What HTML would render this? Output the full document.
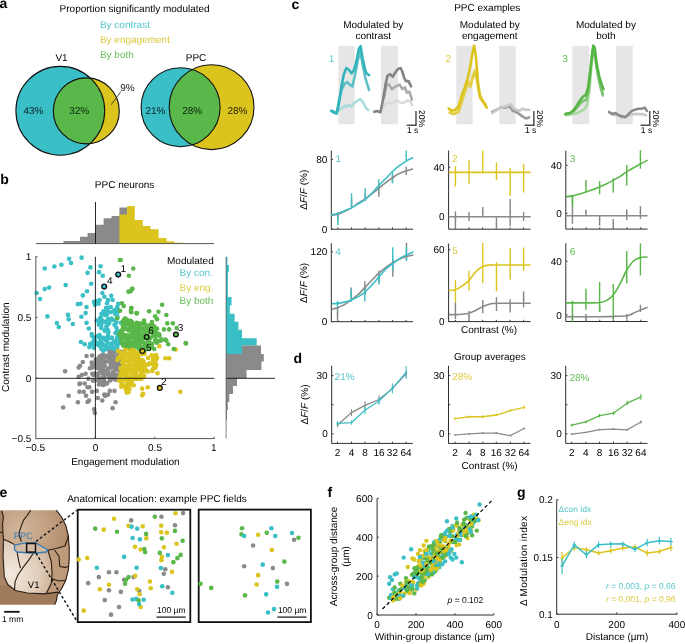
<!DOCTYPE html>
<html><head><meta charset="utf-8"><style>
html,body{margin:0;padding:0;background:#fff;}
svg{display:block;font-family:"Liberation Sans", sans-serif;font-size:10px;will-change:transform;text-rendering:geometricPrecision;filter:blur(0.35px);}
</style></head><body>
<svg width="685" height="644" viewBox="0 0 685 644">
<rect width="685" height="644" fill="#fff"/>
<text x="-0.6" y="7.9" font-weight="bold" font-size="14">a</text>
<text x="0.3" y="183.6" font-weight="bold" font-size="14">b</text>
<text x="291.5" y="8.5" font-weight="bold" font-size="14">c</text>
<text x="293.5" y="362.7" font-weight="bold" font-size="14">d</text>
<text x="-0.4" y="497.3" font-weight="bold" font-size="14">e</text>
<text x="327.5" y="496.5" font-weight="bold" font-size="14">f</text>
<text x="517" y="497.1" font-weight="bold" font-size="14">g</text>
<text x="59.6" y="11.9">Proportion significantly modulated</text>
<text x="99.9" y="27.7" fill="#55c5cc">By contrast</text>
<text x="99.9" y="42.7" fill="#dcc93f">By engagement</text>
<text x="99.9" y="57.5" fill="#64bb56">By both</text>
<text x="61.5" y="60.5" text-anchor="middle">V1</text>
<text x="196" y="61" text-anchor="middle">PPC</text>
<clipPath id="cv1"><circle cx="60.3" cy="110.8" r="44.4"/></clipPath>
<circle cx="60.3" cy="110.8" r="44.4" fill="#3BBFC7"/>
<circle cx="86.3" cy="110.9" r="33" fill="#DCC41F"/>
<circle cx="86.3" cy="110.9" r="33" fill="#5AB74A" clip-path="url(#cv1)"/>
<circle cx="60.3" cy="110.8" r="44.4" fill="none" stroke="#111" stroke-width="1.1"/>
<circle cx="86.3" cy="110.9" r="33" fill="none" stroke="#111" stroke-width="1.1"/>
<clipPath id="cv2"><circle cx="180.6" cy="107.2" r="39.5"/></clipPath>
<circle cx="180.6" cy="107.2" r="39.5" fill="#3BBFC7"/>
<circle cx="211.6" cy="107.2" r="42.4" fill="#DCC41F"/>
<circle cx="211.6" cy="107.2" r="42.4" fill="#5AB74A" clip-path="url(#cv2)"/>
<circle cx="180.6" cy="107.2" r="39.5" fill="none" stroke="#111" stroke-width="1.1"/>
<circle cx="211.6" cy="107.2" r="42.4" fill="none" stroke="#111" stroke-width="1.1"/>
<text x="33.4" y="113.6" text-anchor="middle" fill="#0a2226">43%</text>
<text x="79.2" y="113.6" text-anchor="middle" fill="#0a240d">32%</text>
<text x="127.5" y="91" text-anchor="middle" fill="#222">9%</text>
<line x1="120.9" y1="91.6" x2="111.2" y2="104.7" stroke="#222" stroke-width="0.8"/>
<text x="155.4" y="113.6" text-anchor="middle" fill="#0a2226">21%</text>
<text x="192.2" y="113.6" text-anchor="middle" fill="#0a240d">28%</text>
<text x="237.5" y="113.6" text-anchor="middle" fill="#221e04">28%</text>
<text x="124.6" y="187.5" text-anchor="middle">PPC neurons</text>
<polygon points="36.1,243.6 36.1,243 63.5,243 63.5,241 80,241 80,236.8 87.6,236.8 87.6,233 95.6,233 95.6,224.7 103.6,224.7 103.6,218.2 111.6,218.2 111.6,216 119.4,216 119.4,207.5 127.1,207.5 127.1,243.6" fill="#8A8A8A"/>
<polygon points="119.4,243.6 119.4,214.5 127.1,214.5 127.1,205.9 134.8,205.9 134.8,220 142.8,220 142.8,226 150.5,226 150.5,229.3 158.6,229.3 158.6,238 166.5,238 166.5,241.3 174.3,241.3 174.3,242.7 182.3,242.7 182.3,243.6" fill="#DCC41F"/>
<line x1="36" y1="243.6" x2="214" y2="243.6" stroke="#555" stroke-width="1"/>
<line x1="95.5" y1="202" x2="95.5" y2="243.6" stroke="#111" stroke-width="0.9"/>
<polygon points="226.1,256.8 227.4,256.8 227.4,264.9 228.9,264.9 228.9,272.3 227.9,272.3 227.9,297.1 231.5,297.1 231.5,305.4 229.8,305.4 229.8,313.8 234.6,313.8 234.6,321.8 238.4,321.8 238.4,329.8 242,329.8 242,338.2 256.7,338.2 256.7,345.6 242,345.6 242,354 226.1,354" fill="#3BBFC7"/>
<polygon points="242,345.6 261,345.6 261,354 263.8,354 263.8,361.5 261.4,361.5 261.4,369.9 246.6,369.9 246.6,378.3 237.1,378.3 237.1,386 233,386 233,394 229.3,394 229.3,402 227.8,402 227.8,410 227,410 227,420 226.1,420 226.1,354 242,354" fill="#8A8A8A"/>
<line x1="226.1" y1="256.8" x2="226.1" y2="438.5" stroke="#333" stroke-width="1" opacity="0.6"/>
<line x1="226.1" y1="378.3" x2="275" y2="378.3" stroke="#111" stroke-width="0.9"/>
<circle cx="97.32" cy="366.16" r="2.3" fill="#8A8A8A"/>
<circle cx="101.77" cy="367.94" r="2.3" fill="#8A8A8A"/>
<circle cx="110.39" cy="351.95" r="2.3" fill="#8A8A8A"/>
<circle cx="117.49" cy="364.15" r="2.3" fill="#8A8A8A"/>
<circle cx="110.84" cy="354.47" r="2.3" fill="#8A8A8A"/>
<circle cx="110.69" cy="375.78" r="2.3" fill="#8A8A8A"/>
<circle cx="106.93" cy="372.02" r="2.3" fill="#8A8A8A"/>
<circle cx="111.93" cy="351.9" r="2.3" fill="#8A8A8A"/>
<circle cx="114.85" cy="367.56" r="2.3" fill="#8A8A8A"/>
<circle cx="118.47" cy="364.04" r="2.3" fill="#8A8A8A"/>
<circle cx="113.52" cy="376.1" r="2.3" fill="#8A8A8A"/>
<circle cx="113.37" cy="377.36" r="2.3" fill="#8A8A8A"/>
<circle cx="102.61" cy="373.79" r="2.3" fill="#8A8A8A"/>
<circle cx="104.28" cy="377.79" r="2.3" fill="#8A8A8A"/>
<circle cx="118.92" cy="352.89" r="2.3" fill="#8A8A8A"/>
<circle cx="121.84" cy="362.95" r="2.3" fill="#8A8A8A"/>
<circle cx="110.42" cy="358.94" r="2.3" fill="#8A8A8A"/>
<circle cx="106.39" cy="361.46" r="2.3" fill="#8A8A8A"/>
<circle cx="101.13" cy="367.38" r="2.3" fill="#8A8A8A"/>
<circle cx="108.99" cy="376.85" r="2.3" fill="#8A8A8A"/>
<circle cx="112.28" cy="377.59" r="2.3" fill="#8A8A8A"/>
<circle cx="111.92" cy="354.84" r="2.3" fill="#8A8A8A"/>
<circle cx="119.79" cy="366.9" r="2.3" fill="#8A8A8A"/>
<circle cx="113.36" cy="356.27" r="2.3" fill="#8A8A8A"/>
<circle cx="117.33" cy="367.03" r="2.3" fill="#8A8A8A"/>
<circle cx="92.28" cy="373.78" r="2.3" fill="#8A8A8A"/>
<circle cx="103.13" cy="354.48" r="2.3" fill="#8A8A8A"/>
<circle cx="99.2" cy="372.83" r="2.3" fill="#8A8A8A"/>
<circle cx="118.71" cy="351.31" r="2.3" fill="#8A8A8A"/>
<circle cx="110.01" cy="351.33" r="2.3" fill="#8A8A8A"/>
<circle cx="113.51" cy="359.83" r="2.3" fill="#8A8A8A"/>
<circle cx="109.51" cy="350.93" r="2.3" fill="#8A8A8A"/>
<circle cx="95.95" cy="362.12" r="2.3" fill="#8A8A8A"/>
<circle cx="109.87" cy="354.64" r="2.3" fill="#8A8A8A"/>
<circle cx="99.88" cy="378.47" r="2.3" fill="#8A8A8A"/>
<circle cx="119.52" cy="361.22" r="2.3" fill="#8A8A8A"/>
<circle cx="104.82" cy="365.45" r="2.3" fill="#8A8A8A"/>
<circle cx="111" cy="367.69" r="2.3" fill="#8A8A8A"/>
<circle cx="108.15" cy="368.42" r="2.3" fill="#8A8A8A"/>
<circle cx="121" cy="365.06" r="2.3" fill="#8A8A8A"/>
<circle cx="103.83" cy="371.39" r="2.3" fill="#8A8A8A"/>
<circle cx="97.31" cy="358.94" r="2.3" fill="#8A8A8A"/>
<circle cx="122.25" cy="365.48" r="2.3" fill="#8A8A8A"/>
<circle cx="103.29" cy="367.22" r="2.3" fill="#8A8A8A"/>
<circle cx="89.98" cy="368.29" r="2.3" fill="#8A8A8A"/>
<circle cx="110.6" cy="351.78" r="2.3" fill="#8A8A8A"/>
<circle cx="110.44" cy="363.85" r="2.3" fill="#8A8A8A"/>
<circle cx="112.19" cy="360.47" r="2.3" fill="#8A8A8A"/>
<circle cx="113.12" cy="371.92" r="2.3" fill="#8A8A8A"/>
<circle cx="97.76" cy="363.55" r="2.3" fill="#8A8A8A"/>
<circle cx="109.27" cy="359.5" r="2.3" fill="#8A8A8A"/>
<circle cx="101.57" cy="359.29" r="2.3" fill="#8A8A8A"/>
<circle cx="101.74" cy="367.69" r="2.3" fill="#8A8A8A"/>
<circle cx="99.42" cy="361.2" r="2.3" fill="#8A8A8A"/>
<circle cx="115.33" cy="350.8" r="2.3" fill="#8A8A8A"/>
<circle cx="108.48" cy="371.83" r="2.3" fill="#8A8A8A"/>
<circle cx="99.75" cy="356.61" r="2.3" fill="#8A8A8A"/>
<circle cx="116.39" cy="357.09" r="2.3" fill="#8A8A8A"/>
<circle cx="95.62" cy="362.93" r="2.3" fill="#8A8A8A"/>
<circle cx="112.82" cy="353.02" r="2.3" fill="#8A8A8A"/>
<circle cx="100.15" cy="359.91" r="2.3" fill="#8A8A8A"/>
<circle cx="117.39" cy="363.02" r="2.3" fill="#8A8A8A"/>
<circle cx="118.13" cy="355.03" r="2.3" fill="#8A8A8A"/>
<circle cx="100.65" cy="369.31" r="2.3" fill="#8A8A8A"/>
<circle cx="119.12" cy="363.4" r="2.3" fill="#8A8A8A"/>
<circle cx="107.15" cy="355.67" r="2.3" fill="#8A8A8A"/>
<circle cx="116.49" cy="374.9" r="2.3" fill="#8A8A8A"/>
<circle cx="116.5" cy="369.07" r="2.3" fill="#8A8A8A"/>
<circle cx="116.47" cy="360.25" r="2.3" fill="#8A8A8A"/>
<circle cx="116.05" cy="358.05" r="2.3" fill="#8A8A8A"/>
<circle cx="100.97" cy="362.38" r="2.3" fill="#8A8A8A"/>
<circle cx="103.45" cy="362.16" r="2.3" fill="#8A8A8A"/>
<circle cx="120.32" cy="354.63" r="2.3" fill="#8A8A8A"/>
<circle cx="103.94" cy="378.22" r="2.3" fill="#8A8A8A"/>
<circle cx="120.55" cy="356.6" r="2.3" fill="#8A8A8A"/>
<circle cx="114.42" cy="374.85" r="2.3" fill="#8A8A8A"/>
<circle cx="111.64" cy="365.41" r="2.3" fill="#8A8A8A"/>
<circle cx="99.04" cy="360.13" r="2.3" fill="#8A8A8A"/>
<circle cx="109.14" cy="358.52" r="2.3" fill="#8A8A8A"/>
<circle cx="116.6" cy="351.34" r="2.3" fill="#8A8A8A"/>
<circle cx="119.75" cy="370.6" r="2.3" fill="#8A8A8A"/>
<circle cx="119.62" cy="367.14" r="2.3" fill="#8A8A8A"/>
<circle cx="111.64" cy="365.59" r="2.3" fill="#8A8A8A"/>
<circle cx="103.24" cy="377.89" r="2.3" fill="#8A8A8A"/>
<circle cx="109.93" cy="360.14" r="2.3" fill="#8A8A8A"/>
<circle cx="97.81" cy="375.59" r="2.3" fill="#8A8A8A"/>
<circle cx="105.38" cy="373.24" r="2.3" fill="#8A8A8A"/>
<circle cx="101.16" cy="355.86" r="2.3" fill="#8A8A8A"/>
<circle cx="107.32" cy="374.26" r="2.3" fill="#8A8A8A"/>
<circle cx="95.07" cy="373.51" r="2.3" fill="#8A8A8A"/>
<circle cx="120.36" cy="373.94" r="2.3" fill="#8A8A8A"/>
<circle cx="117.05" cy="350.22" r="2.3" fill="#8A8A8A"/>
<circle cx="110.48" cy="375.62" r="2.3" fill="#8A8A8A"/>
<circle cx="98.35" cy="365.66" r="2.3" fill="#8A8A8A"/>
<circle cx="103.55" cy="364.05" r="2.3" fill="#8A8A8A"/>
<circle cx="92.2" cy="364.91" r="2.3" fill="#8A8A8A"/>
<circle cx="99.95" cy="359.34" r="2.3" fill="#8A8A8A"/>
<circle cx="101.14" cy="369.21" r="2.3" fill="#8A8A8A"/>
<circle cx="109.07" cy="360.72" r="2.3" fill="#8A8A8A"/>
<circle cx="95.74" cy="359.76" r="2.3" fill="#8A8A8A"/>
<circle cx="93.47" cy="366.5" r="2.3" fill="#8A8A8A"/>
<circle cx="113.43" cy="361.29" r="2.3" fill="#8A8A8A"/>
<circle cx="101.88" cy="367.95" r="2.3" fill="#8A8A8A"/>
<circle cx="115.67" cy="361.29" r="2.3" fill="#8A8A8A"/>
<circle cx="116.3" cy="368.5" r="2.3" fill="#8A8A8A"/>
<circle cx="103.84" cy="361.06" r="2.3" fill="#8A8A8A"/>
<circle cx="106.02" cy="370.88" r="2.3" fill="#8A8A8A"/>
<circle cx="103.47" cy="370.62" r="2.3" fill="#8A8A8A"/>
<circle cx="104.83" cy="357.28" r="2.3" fill="#8A8A8A"/>
<circle cx="107.36" cy="370.65" r="2.3" fill="#8A8A8A"/>
<circle cx="91.71" cy="362.62" r="2.3" fill="#8A8A8A"/>
<circle cx="103.65" cy="376.13" r="2.3" fill="#8A8A8A"/>
<circle cx="120.86" cy="361.11" r="2.3" fill="#8A8A8A"/>
<circle cx="119.56" cy="373.49" r="2.3" fill="#8A8A8A"/>
<circle cx="98.14" cy="363.79" r="2.3" fill="#8A8A8A"/>
<circle cx="93.45" cy="374.15" r="2.3" fill="#8A8A8A"/>
<circle cx="111.62" cy="376.35" r="2.3" fill="#8A8A8A"/>
<circle cx="116.01" cy="369.83" r="2.3" fill="#8A8A8A"/>
<circle cx="114.03" cy="366.75" r="2.3" fill="#8A8A8A"/>
<circle cx="92.78" cy="367.46" r="2.3" fill="#8A8A8A"/>
<circle cx="115.39" cy="351.32" r="2.3" fill="#8A8A8A"/>
<circle cx="118.97" cy="355.32" r="2.3" fill="#8A8A8A"/>
<circle cx="93.39" cy="375.07" r="2.3" fill="#8A8A8A"/>
<circle cx="112" cy="374.83" r="2.3" fill="#8A8A8A"/>
<circle cx="121.4" cy="367.2" r="2.3" fill="#8A8A8A"/>
<circle cx="116.22" cy="351.08" r="2.3" fill="#8A8A8A"/>
<circle cx="115.16" cy="365.19" r="2.3" fill="#8A8A8A"/>
<circle cx="113.4" cy="353.17" r="2.3" fill="#8A8A8A"/>
<circle cx="114.54" cy="377.76" r="2.3" fill="#8A8A8A"/>
<circle cx="108.31" cy="374.59" r="2.3" fill="#8A8A8A"/>
<circle cx="97.72" cy="368.29" r="2.3" fill="#8A8A8A"/>
<circle cx="114.69" cy="361.69" r="2.3" fill="#8A8A8A"/>
<circle cx="101.68" cy="361.78" r="2.3" fill="#8A8A8A"/>
<circle cx="101.1" cy="362.42" r="2.3" fill="#8A8A8A"/>
<circle cx="92.11" cy="364.86" r="2.3" fill="#8A8A8A"/>
<circle cx="122.09" cy="362.26" r="2.3" fill="#8A8A8A"/>
<circle cx="98" cy="380.5" r="2.3" fill="#8A8A8A"/>
<circle cx="101" cy="382.5" r="2.3" fill="#8A8A8A"/>
<circle cx="104" cy="381" r="2.3" fill="#8A8A8A"/>
<circle cx="107" cy="383" r="2.3" fill="#8A8A8A"/>
<circle cx="103" cy="385" r="2.3" fill="#8A8A8A"/>
<circle cx="99" cy="384.5" r="2.3" fill="#8A8A8A"/>
<circle cx="110" cy="380.5" r="2.3" fill="#8A8A8A"/>
<circle cx="78.68" cy="367.59" r="2.3" fill="#8A8A8A"/>
<circle cx="65.11" cy="371.27" r="2.3" fill="#8A8A8A"/>
<circle cx="78.68" cy="376.88" r="2.3" fill="#8A8A8A"/>
<circle cx="79.42" cy="383.96" r="2.3" fill="#8A8A8A"/>
<circle cx="79.42" cy="391.63" r="2.3" fill="#8A8A8A"/>
<circle cx="68.65" cy="395.76" r="2.3" fill="#8A8A8A"/>
<circle cx="86.06" cy="395.76" r="2.3" fill="#8A8A8A"/>
<circle cx="77.94" cy="402.25" r="2.3" fill="#8A8A8A"/>
<circle cx="87.53" cy="401.96" r="2.3" fill="#8A8A8A"/>
<circle cx="89.01" cy="400.48" r="2.3" fill="#8A8A8A"/>
<circle cx="63.19" cy="407.56" r="2.3" fill="#8A8A8A"/>
<circle cx="97.86" cy="397.97" r="2.3" fill="#8A8A8A"/>
<circle cx="102.28" cy="400.48" r="2.3" fill="#8A8A8A"/>
<circle cx="94.17" cy="409.33" r="2.3" fill="#8A8A8A"/>
<circle cx="94.91" cy="413.02" r="2.3" fill="#8A8A8A"/>
<circle cx="115.56" cy="402.25" r="2.3" fill="#8A8A8A"/>
<circle cx="112.61" cy="408.15" r="2.3" fill="#8A8A8A"/>
<circle cx="105.23" cy="396.06" r="2.3" fill="#8A8A8A"/>
<circle cx="86.52" cy="355.97" r="2.3" fill="#8A8A8A"/>
<circle cx="92.12" cy="355.5" r="2.3" fill="#8A8A8A"/>
<circle cx="82.8" cy="362.03" r="2.3" fill="#8A8A8A"/>
<circle cx="80" cy="365.75" r="2.3" fill="#8A8A8A"/>
<circle cx="85.59" cy="373.68" r="2.3" fill="#8A8A8A"/>
<circle cx="81.86" cy="375.07" r="2.3" fill="#8A8A8A"/>
<circle cx="80" cy="383.46" r="2.3" fill="#8A8A8A"/>
<circle cx="84.66" cy="383.46" r="2.3" fill="#8A8A8A"/>
<circle cx="87.46" cy="387.19" r="2.3" fill="#8A8A8A"/>
<circle cx="89.32" cy="387.19" r="2.3" fill="#8A8A8A"/>
<circle cx="92.12" cy="391.85" r="2.3" fill="#8A8A8A"/>
<circle cx="100.5" cy="383.46" r="2.3" fill="#8A8A8A"/>
<circle cx="104.23" cy="384.39" r="2.3" fill="#8A8A8A"/>
<circle cx="107.03" cy="383.46" r="2.3" fill="#8A8A8A"/>
<circle cx="109.82" cy="390.92" r="2.3" fill="#8A8A8A"/>
<circle cx="114.48" cy="390.92" r="2.3" fill="#8A8A8A"/>
<circle cx="107.96" cy="394.65" r="2.3" fill="#8A8A8A"/>
<circle cx="104.23" cy="394.65" r="2.3" fill="#8A8A8A"/>
<circle cx="96.78" cy="390.92" r="2.3" fill="#8A8A8A"/>
<circle cx="88.39" cy="378.8" r="2.3" fill="#8A8A8A"/>
<circle cx="93.05" cy="380.67" r="2.3" fill="#8A8A8A"/>
<circle cx="83.73" cy="391.85" r="2.3" fill="#8A8A8A"/>
<circle cx="98.64" cy="380.67" r="2.3" fill="#8A8A8A"/>
<circle cx="102.37" cy="381.6" r="2.3" fill="#8A8A8A"/>
<circle cx="110.75" cy="379.73" r="2.3" fill="#8A8A8A"/>
<circle cx="115.41" cy="379.73" r="2.3" fill="#8A8A8A"/>
<circle cx="124.73" cy="375.07" r="2.3" fill="#8A8A8A"/>
<circle cx="121.94" cy="351.78" r="2.3" fill="#8A8A8A"/>
<circle cx="131.4" cy="348.98" r="2.3" fill="#8A8A8A"/>
<circle cx="131.86" cy="342.46" r="2.3" fill="#8A8A8A"/>
<circle cx="97.68" cy="336.18" r="2.3" fill="#3BBFC7"/>
<circle cx="111.92" cy="343.64" r="2.3" fill="#3BBFC7"/>
<circle cx="113.59" cy="310.92" r="2.3" fill="#3BBFC7"/>
<circle cx="106.8" cy="314.73" r="2.3" fill="#3BBFC7"/>
<circle cx="98.87" cy="324.64" r="2.3" fill="#3BBFC7"/>
<circle cx="117.06" cy="332.68" r="2.3" fill="#3BBFC7"/>
<circle cx="93.91" cy="344.64" r="2.3" fill="#3BBFC7"/>
<circle cx="116.13" cy="341.68" r="2.3" fill="#3BBFC7"/>
<circle cx="116.68" cy="338.89" r="2.3" fill="#3BBFC7"/>
<circle cx="120.8" cy="341.12" r="2.3" fill="#3BBFC7"/>
<circle cx="97.6" cy="343.67" r="2.3" fill="#3BBFC7"/>
<circle cx="105.31" cy="339.35" r="2.3" fill="#3BBFC7"/>
<circle cx="107.9" cy="324.55" r="2.3" fill="#3BBFC7"/>
<circle cx="101.2" cy="324.56" r="2.3" fill="#3BBFC7"/>
<circle cx="116.46" cy="341.32" r="2.3" fill="#3BBFC7"/>
<circle cx="107.57" cy="339.05" r="2.3" fill="#3BBFC7"/>
<circle cx="103.85" cy="313.04" r="2.3" fill="#3BBFC7"/>
<circle cx="109.28" cy="323.01" r="2.3" fill="#3BBFC7"/>
<circle cx="120.95" cy="322.73" r="2.3" fill="#3BBFC7"/>
<circle cx="113.08" cy="347.45" r="2.3" fill="#3BBFC7"/>
<circle cx="116" cy="343.14" r="2.3" fill="#3BBFC7"/>
<circle cx="110.41" cy="312.27" r="2.3" fill="#3BBFC7"/>
<circle cx="102.85" cy="344.5" r="2.3" fill="#3BBFC7"/>
<circle cx="118.69" cy="341.54" r="2.3" fill="#3BBFC7"/>
<circle cx="95.8" cy="343.84" r="2.3" fill="#3BBFC7"/>
<circle cx="101.55" cy="337.6" r="2.3" fill="#3BBFC7"/>
<circle cx="109.22" cy="337.88" r="2.3" fill="#3BBFC7"/>
<circle cx="108.46" cy="331.9" r="2.3" fill="#3BBFC7"/>
<circle cx="101.04" cy="338.11" r="2.3" fill="#3BBFC7"/>
<circle cx="100.43" cy="318.44" r="2.3" fill="#3BBFC7"/>
<circle cx="107.63" cy="329.72" r="2.3" fill="#3BBFC7"/>
<circle cx="101.28" cy="342.97" r="2.3" fill="#3BBFC7"/>
<circle cx="105.63" cy="349.13" r="2.3" fill="#3BBFC7"/>
<circle cx="106.31" cy="326.58" r="2.3" fill="#3BBFC7"/>
<circle cx="111.43" cy="318.49" r="2.3" fill="#3BBFC7"/>
<circle cx="119.5" cy="338.6" r="2.3" fill="#3BBFC7"/>
<circle cx="97.65" cy="336.12" r="2.3" fill="#3BBFC7"/>
<circle cx="117.45" cy="316.76" r="2.3" fill="#3BBFC7"/>
<circle cx="108.7" cy="321.18" r="2.3" fill="#3BBFC7"/>
<circle cx="114.92" cy="313.66" r="2.3" fill="#3BBFC7"/>
<circle cx="105.1" cy="330.24" r="2.3" fill="#3BBFC7"/>
<circle cx="100.15" cy="318.17" r="2.3" fill="#3BBFC7"/>
<circle cx="103.57" cy="311.23" r="2.3" fill="#3BBFC7"/>
<circle cx="117.93" cy="310.09" r="2.3" fill="#3BBFC7"/>
<circle cx="116.59" cy="314.93" r="2.3" fill="#3BBFC7"/>
<circle cx="99.16" cy="322.67" r="2.3" fill="#3BBFC7"/>
<circle cx="101.09" cy="325.11" r="2.3" fill="#3BBFC7"/>
<circle cx="93.33" cy="341.57" r="2.3" fill="#3BBFC7"/>
<circle cx="99.81" cy="345.63" r="2.3" fill="#3BBFC7"/>
<circle cx="107.27" cy="310.72" r="2.3" fill="#3BBFC7"/>
<circle cx="118.08" cy="311.81" r="2.3" fill="#3BBFC7"/>
<circle cx="105.04" cy="321.91" r="2.3" fill="#3BBFC7"/>
<circle cx="69.09" cy="258.85" r="2.3" fill="#3BBFC7"/>
<circle cx="81.63" cy="257.67" r="2.3" fill="#3BBFC7"/>
<circle cx="71.01" cy="262.98" r="2.3" fill="#3BBFC7"/>
<circle cx="44.75" cy="268.44" r="2.3" fill="#3BBFC7"/>
<circle cx="54.34" cy="266.52" r="2.3" fill="#3BBFC7"/>
<circle cx="61.42" cy="264.75" r="2.3" fill="#3BBFC7"/>
<circle cx="90.48" cy="267.41" r="2.3" fill="#3BBFC7"/>
<circle cx="87.53" cy="272.86" r="2.3" fill="#3BBFC7"/>
<circle cx="100.51" cy="266.23" r="2.3" fill="#3BBFC7"/>
<circle cx="99.04" cy="272.13" r="2.3" fill="#3BBFC7"/>
<circle cx="102.72" cy="275.82" r="2.3" fill="#3BBFC7"/>
<circle cx="65.7" cy="285.11" r="2.3" fill="#3BBFC7"/>
<circle cx="49.18" cy="287.62" r="2.3" fill="#3BBFC7"/>
<circle cx="44.75" cy="289.09" r="2.3" fill="#3BBFC7"/>
<circle cx="36.64" cy="293.07" r="2.3" fill="#3BBFC7"/>
<circle cx="40.03" cy="298.97" r="2.3" fill="#3BBFC7"/>
<circle cx="77.94" cy="304.14" r="2.3" fill="#3BBFC7"/>
<circle cx="68.06" cy="314.91" r="2.3" fill="#3BBFC7"/>
<circle cx="68.65" cy="319.33" r="2.3" fill="#3BBFC7"/>
<circle cx="72.78" cy="324.05" r="2.3" fill="#3BBFC7"/>
<circle cx="56.85" cy="323.02" r="2.3" fill="#3BBFC7"/>
<circle cx="58.77" cy="327" r="2.3" fill="#3BBFC7"/>
<circle cx="47.41" cy="316.38" r="2.3" fill="#3BBFC7"/>
<circle cx="91.18" cy="283.73" r="2.3" fill="#3BBFC7"/>
<circle cx="86.99" cy="291.18" r="2.3" fill="#3BBFC7"/>
<circle cx="82.8" cy="295.38" r="2.3" fill="#3BBFC7"/>
<circle cx="102.37" cy="293.05" r="2.3" fill="#3BBFC7"/>
<circle cx="104.42" cy="296.78" r="2.3" fill="#3BBFC7"/>
<circle cx="111.22" cy="295.84" r="2.3" fill="#3BBFC7"/>
<circle cx="112.62" cy="300.04" r="2.3" fill="#3BBFC7"/>
<circle cx="107.96" cy="300.04" r="2.3" fill="#3BBFC7"/>
<circle cx="99.57" cy="300.04" r="2.3" fill="#3BBFC7"/>
<circle cx="96.78" cy="300.97" r="2.3" fill="#3BBFC7"/>
<circle cx="93.98" cy="301.9" r="2.3" fill="#3BBFC7"/>
<circle cx="94.91" cy="304.7" r="2.3" fill="#3BBFC7"/>
<circle cx="98.64" cy="303.77" r="2.3" fill="#3BBFC7"/>
<circle cx="107.03" cy="303.3" r="2.3" fill="#3BBFC7"/>
<circle cx="107.96" cy="307.96" r="2.3" fill="#3BBFC7"/>
<circle cx="110.75" cy="307.03" r="2.3" fill="#3BBFC7"/>
<circle cx="106.1" cy="307.96" r="2.3" fill="#3BBFC7"/>
<circle cx="118.21" cy="303.77" r="2.3" fill="#3BBFC7"/>
<circle cx="117.28" cy="307.03" r="2.3" fill="#3BBFC7"/>
<circle cx="115.41" cy="309.82" r="2.3" fill="#3BBFC7"/>
<circle cx="86.52" cy="307.03" r="2.3" fill="#3BBFC7"/>
<circle cx="85.59" cy="313.08" r="2.3" fill="#3BBFC7"/>
<circle cx="81.4" cy="316.81" r="2.3" fill="#3BBFC7"/>
<circle cx="101.44" cy="314.02" r="2.3" fill="#3BBFC7"/>
<circle cx="104.7" cy="314.95" r="2.3" fill="#3BBFC7"/>
<circle cx="100.97" cy="318.21" r="2.3" fill="#3BBFC7"/>
<circle cx="107.96" cy="319.14" r="2.3" fill="#3BBFC7"/>
<circle cx="110.75" cy="319.61" r="2.3" fill="#3BBFC7"/>
<circle cx="113.55" cy="320.07" r="2.3" fill="#3BBFC7"/>
<circle cx="102.37" cy="321.01" r="2.3" fill="#3BBFC7"/>
<circle cx="96.78" cy="320.54" r="2.3" fill="#3BBFC7"/>
<circle cx="107.96" cy="322.4" r="2.3" fill="#3BBFC7"/>
<circle cx="116.35" cy="322.4" r="2.3" fill="#3BBFC7"/>
<circle cx="86.52" cy="322.87" r="2.3" fill="#3BBFC7"/>
<circle cx="88.85" cy="328.46" r="2.3" fill="#3BBFC7"/>
<circle cx="91.65" cy="334.05" r="2.3" fill="#3BBFC7"/>
<circle cx="101.44" cy="328" r="2.3" fill="#3BBFC7"/>
<circle cx="104.7" cy="330.79" r="2.3" fill="#3BBFC7"/>
<circle cx="107.96" cy="334.05" r="2.3" fill="#3BBFC7"/>
<circle cx="99.57" cy="334.99" r="2.3" fill="#3BBFC7"/>
<circle cx="114.48" cy="324.73" r="2.3" fill="#3BBFC7"/>
<circle cx="116.35" cy="327.53" r="2.3" fill="#3BBFC7"/>
<circle cx="115.41" cy="333.12" r="2.3" fill="#3BBFC7"/>
<circle cx="118.21" cy="335.92" r="2.3" fill="#3BBFC7"/>
<circle cx="80.47" cy="303.77" r="2.3" fill="#3BBFC7"/>
<circle cx="127.53" cy="329.39" r="2.3" fill="#3BBFC7"/>
<circle cx="117.28" cy="330.33" r="2.3" fill="#3BBFC7"/>
<circle cx="111.69" cy="337.78" r="2.3" fill="#3BBFC7"/>
<circle cx="104.23" cy="337.78" r="2.3" fill="#3BBFC7"/>
<circle cx="93.98" cy="337.78" r="2.3" fill="#3BBFC7"/>
<circle cx="80.93" cy="341.99" r="2.3" fill="#3BBFC7"/>
<circle cx="84.66" cy="344.32" r="2.3" fill="#3BBFC7"/>
<circle cx="89.32" cy="347.12" r="2.3" fill="#3BBFC7"/>
<circle cx="92.12" cy="345.25" r="2.3" fill="#3BBFC7"/>
<circle cx="93.98" cy="348.05" r="2.3" fill="#3BBFC7"/>
<circle cx="98.64" cy="345.25" r="2.3" fill="#3BBFC7"/>
<circle cx="101.44" cy="342.46" r="2.3" fill="#3BBFC7"/>
<circle cx="104.23" cy="345.25" r="2.3" fill="#3BBFC7"/>
<circle cx="101.44" cy="348.98" r="2.3" fill="#3BBFC7"/>
<circle cx="103.3" cy="350.84" r="2.3" fill="#3BBFC7"/>
<circle cx="106.1" cy="346.18" r="2.3" fill="#3BBFC7"/>
<circle cx="107.96" cy="343.39" r="2.3" fill="#3BBFC7"/>
<circle cx="110.75" cy="344.32" r="2.3" fill="#3BBFC7"/>
<circle cx="113.55" cy="341.52" r="2.3" fill="#3BBFC7"/>
<circle cx="116.35" cy="344.32" r="2.3" fill="#3BBFC7"/>
<circle cx="119.14" cy="343.39" r="2.3" fill="#3BBFC7"/>
<circle cx="110.75" cy="348.05" r="2.3" fill="#3BBFC7"/>
<circle cx="114.48" cy="348.98" r="2.3" fill="#3BBFC7"/>
<circle cx="117.28" cy="347.12" r="2.3" fill="#3BBFC7"/>
<circle cx="92.12" cy="335.93" r="2.3" fill="#3BBFC7"/>
<circle cx="98.64" cy="336.86" r="2.3" fill="#3BBFC7"/>
<circle cx="102.37" cy="338.73" r="2.3" fill="#3BBFC7"/>
<circle cx="107.96" cy="336.86" r="2.3" fill="#3BBFC7"/>
<circle cx="111.69" cy="337.8" r="2.3" fill="#3BBFC7"/>
<circle cx="117.28" cy="337.8" r="2.3" fill="#3BBFC7"/>
<circle cx="119.14" cy="339.66" r="2.3" fill="#3BBFC7"/>
<circle cx="100.5" cy="340.59" r="2.3" fill="#3BBFC7"/>
<circle cx="96.78" cy="343.39" r="2.3" fill="#3BBFC7"/>
<circle cx="90.25" cy="343.85" r="2.3" fill="#3BBFC7"/>
<circle cx="106.1" cy="340.59" r="2.3" fill="#3BBFC7"/>
<circle cx="94.91" cy="340.59" r="2.3" fill="#3BBFC7"/>
<circle cx="105.16" cy="348.98" r="2.3" fill="#3BBFC7"/>
<circle cx="107.96" cy="348.05" r="2.3" fill="#3BBFC7"/>
<circle cx="125.12" cy="354.33" r="2.3" fill="#DCC41F"/>
<circle cx="132.32" cy="350.57" r="2.3" fill="#DCC41F"/>
<circle cx="129.79" cy="364.62" r="2.3" fill="#DCC41F"/>
<circle cx="127.34" cy="386.71" r="2.3" fill="#DCC41F"/>
<circle cx="130.7" cy="366.1" r="2.3" fill="#DCC41F"/>
<circle cx="136.89" cy="360.97" r="2.3" fill="#DCC41F"/>
<circle cx="121.17" cy="352.74" r="2.3" fill="#DCC41F"/>
<circle cx="124.79" cy="386.19" r="2.3" fill="#DCC41F"/>
<circle cx="121.98" cy="374.96" r="2.3" fill="#DCC41F"/>
<circle cx="132.06" cy="364.94" r="2.3" fill="#DCC41F"/>
<circle cx="130.05" cy="350.11" r="2.3" fill="#DCC41F"/>
<circle cx="132.97" cy="367.58" r="2.3" fill="#DCC41F"/>
<circle cx="124.91" cy="375.15" r="2.3" fill="#DCC41F"/>
<circle cx="127.97" cy="361.46" r="2.3" fill="#DCC41F"/>
<circle cx="123.37" cy="374.61" r="2.3" fill="#DCC41F"/>
<circle cx="129.55" cy="389.02" r="2.3" fill="#DCC41F"/>
<circle cx="134.05" cy="360.89" r="2.3" fill="#DCC41F"/>
<circle cx="139.56" cy="352.76" r="2.3" fill="#DCC41F"/>
<circle cx="127.2" cy="383.37" r="2.3" fill="#DCC41F"/>
<circle cx="121.34" cy="370.52" r="2.3" fill="#DCC41F"/>
<circle cx="118.86" cy="379.11" r="2.3" fill="#DCC41F"/>
<circle cx="134.82" cy="374.55" r="2.3" fill="#DCC41F"/>
<circle cx="137.26" cy="362.13" r="2.3" fill="#DCC41F"/>
<circle cx="133.3" cy="375.57" r="2.3" fill="#DCC41F"/>
<circle cx="130.76" cy="368.95" r="2.3" fill="#DCC41F"/>
<circle cx="128.43" cy="378.91" r="2.3" fill="#DCC41F"/>
<circle cx="119.33" cy="380.7" r="2.3" fill="#DCC41F"/>
<circle cx="136.08" cy="360.73" r="2.3" fill="#DCC41F"/>
<circle cx="126.49" cy="379.13" r="2.3" fill="#DCC41F"/>
<circle cx="121.7" cy="352.71" r="2.3" fill="#DCC41F"/>
<circle cx="126.6" cy="388.84" r="2.3" fill="#DCC41F"/>
<circle cx="124.13" cy="366.99" r="2.3" fill="#DCC41F"/>
<circle cx="125.89" cy="389.45" r="2.3" fill="#DCC41F"/>
<circle cx="139.07" cy="354.33" r="2.3" fill="#DCC41F"/>
<circle cx="121.88" cy="358.21" r="2.3" fill="#DCC41F"/>
<circle cx="123.13" cy="370.33" r="2.3" fill="#DCC41F"/>
<circle cx="130.96" cy="359.69" r="2.3" fill="#DCC41F"/>
<circle cx="126.12" cy="374.23" r="2.3" fill="#DCC41F"/>
<circle cx="129.34" cy="376.68" r="2.3" fill="#DCC41F"/>
<circle cx="132.88" cy="349.69" r="2.3" fill="#DCC41F"/>
<circle cx="126.63" cy="366.21" r="2.3" fill="#DCC41F"/>
<circle cx="120.28" cy="377.48" r="2.3" fill="#DCC41F"/>
<circle cx="122.59" cy="354.87" r="2.3" fill="#DCC41F"/>
<circle cx="125.48" cy="349.62" r="2.3" fill="#DCC41F"/>
<circle cx="131.51" cy="354.22" r="2.3" fill="#DCC41F"/>
<circle cx="123.55" cy="363.74" r="2.3" fill="#DCC41F"/>
<circle cx="126.01" cy="352.98" r="2.3" fill="#DCC41F"/>
<circle cx="128.25" cy="370.28" r="2.3" fill="#DCC41F"/>
<circle cx="125.54" cy="359.78" r="2.3" fill="#DCC41F"/>
<circle cx="136.23" cy="354.83" r="2.3" fill="#DCC41F"/>
<circle cx="129.62" cy="354.12" r="2.3" fill="#DCC41F"/>
<circle cx="129.95" cy="348.4" r="2.3" fill="#DCC41F"/>
<circle cx="123.74" cy="364.66" r="2.3" fill="#DCC41F"/>
<circle cx="121.67" cy="384.08" r="2.3" fill="#DCC41F"/>
<circle cx="129.72" cy="384.42" r="2.3" fill="#DCC41F"/>
<circle cx="125.25" cy="357.78" r="2.3" fill="#DCC41F"/>
<circle cx="122.99" cy="371.89" r="2.3" fill="#DCC41F"/>
<circle cx="125.82" cy="348.49" r="2.3" fill="#DCC41F"/>
<circle cx="123.7" cy="380.27" r="2.3" fill="#DCC41F"/>
<circle cx="139.04" cy="368.52" r="2.3" fill="#DCC41F"/>
<circle cx="139.01" cy="364.57" r="2.3" fill="#DCC41F"/>
<circle cx="122.85" cy="357.97" r="2.3" fill="#DCC41F"/>
<circle cx="122.33" cy="356.89" r="2.3" fill="#DCC41F"/>
<circle cx="136.49" cy="370.07" r="2.3" fill="#DCC41F"/>
<circle cx="119.87" cy="378.74" r="2.3" fill="#DCC41F"/>
<circle cx="134.5" cy="370" r="2.3" fill="#DCC41F"/>
<circle cx="121.93" cy="384.9" r="2.3" fill="#DCC41F"/>
<circle cx="125.32" cy="385.46" r="2.3" fill="#DCC41F"/>
<circle cx="139.38" cy="366.06" r="2.3" fill="#DCC41F"/>
<circle cx="126.83" cy="392.45" r="2.3" fill="#DCC41F"/>
<circle cx="133.95" cy="355.24" r="2.3" fill="#DCC41F"/>
<circle cx="120.79" cy="354.34" r="2.3" fill="#DCC41F"/>
<circle cx="121.22" cy="386.69" r="2.3" fill="#DCC41F"/>
<circle cx="139.57" cy="378.58" r="2.3" fill="#DCC41F"/>
<circle cx="125.71" cy="373.38" r="2.3" fill="#DCC41F"/>
<circle cx="139.36" cy="378.22" r="2.3" fill="#DCC41F"/>
<circle cx="127.54" cy="388.86" r="2.3" fill="#DCC41F"/>
<circle cx="136.18" cy="357.21" r="2.3" fill="#DCC41F"/>
<circle cx="123.54" cy="361.13" r="2.3" fill="#DCC41F"/>
<circle cx="123.29" cy="375.19" r="2.3" fill="#DCC41F"/>
<circle cx="123.71" cy="367.17" r="2.3" fill="#DCC41F"/>
<circle cx="125.78" cy="369.05" r="2.3" fill="#DCC41F"/>
<circle cx="127.25" cy="391.06" r="2.3" fill="#DCC41F"/>
<circle cx="129.04" cy="372.57" r="2.3" fill="#DCC41F"/>
<circle cx="129.52" cy="348" r="2.3" fill="#DCC41F"/>
<circle cx="127.68" cy="355.87" r="2.3" fill="#DCC41F"/>
<circle cx="121.79" cy="369.78" r="2.3" fill="#DCC41F"/>
<circle cx="133.95" cy="373.76" r="2.3" fill="#DCC41F"/>
<circle cx="125.17" cy="371.93" r="2.3" fill="#DCC41F"/>
<circle cx="130.22" cy="384.67" r="2.3" fill="#DCC41F"/>
<circle cx="120.33" cy="373.94" r="2.3" fill="#DCC41F"/>
<circle cx="123.47" cy="360.36" r="2.3" fill="#DCC41F"/>
<circle cx="134.99" cy="371.42" r="2.3" fill="#DCC41F"/>
<circle cx="138.07" cy="368.33" r="2.3" fill="#DCC41F"/>
<circle cx="131.48" cy="371.32" r="2.3" fill="#DCC41F"/>
<circle cx="129.27" cy="380.28" r="2.3" fill="#DCC41F"/>
<circle cx="127.95" cy="372.64" r="2.3" fill="#DCC41F"/>
<circle cx="128.52" cy="392.2" r="2.3" fill="#DCC41F"/>
<circle cx="138.73" cy="359.53" r="2.3" fill="#DCC41F"/>
<circle cx="136.48" cy="353.67" r="2.3" fill="#DCC41F"/>
<circle cx="120.68" cy="368.28" r="2.3" fill="#DCC41F"/>
<circle cx="119.61" cy="379.17" r="2.3" fill="#DCC41F"/>
<circle cx="121.4" cy="381.4" r="2.3" fill="#DCC41F"/>
<circle cx="132.53" cy="353.95" r="2.3" fill="#DCC41F"/>
<circle cx="126.76" cy="370.44" r="2.3" fill="#DCC41F"/>
<circle cx="121.55" cy="367.77" r="2.3" fill="#DCC41F"/>
<circle cx="129.34" cy="363.34" r="2.3" fill="#DCC41F"/>
<circle cx="122.31" cy="362.36" r="2.3" fill="#DCC41F"/>
<circle cx="130.19" cy="368.2" r="2.3" fill="#DCC41F"/>
<circle cx="131.73" cy="371.64" r="2.3" fill="#DCC41F"/>
<circle cx="123.95" cy="353.31" r="2.3" fill="#DCC41F"/>
<circle cx="127.29" cy="390.76" r="2.3" fill="#DCC41F"/>
<circle cx="136.02" cy="359.49" r="2.3" fill="#DCC41F"/>
<circle cx="136.98" cy="378.83" r="2.3" fill="#DCC41F"/>
<circle cx="133.89" cy="370.85" r="2.3" fill="#DCC41F"/>
<circle cx="132.62" cy="356.67" r="2.3" fill="#DCC41F"/>
<circle cx="149.77" cy="363.23" r="2.3" fill="#DCC41F"/>
<circle cx="143.96" cy="364.34" r="2.3" fill="#DCC41F"/>
<circle cx="135.92" cy="374.75" r="2.3" fill="#DCC41F"/>
<circle cx="132.76" cy="356.26" r="2.3" fill="#DCC41F"/>
<circle cx="130.62" cy="357.27" r="2.3" fill="#DCC41F"/>
<circle cx="142.56" cy="376.96" r="2.3" fill="#DCC41F"/>
<circle cx="141.68" cy="352.53" r="2.3" fill="#DCC41F"/>
<circle cx="131.94" cy="368.23" r="2.3" fill="#DCC41F"/>
<circle cx="141.62" cy="369.49" r="2.3" fill="#DCC41F"/>
<circle cx="140.42" cy="370.43" r="2.3" fill="#DCC41F"/>
<circle cx="145.33" cy="369.14" r="2.3" fill="#DCC41F"/>
<circle cx="134.38" cy="351" r="2.3" fill="#DCC41F"/>
<circle cx="135.97" cy="378.33" r="2.3" fill="#DCC41F"/>
<circle cx="147.83" cy="371.6" r="2.3" fill="#DCC41F"/>
<circle cx="157.13" cy="357.86" r="2.3" fill="#DCC41F"/>
<circle cx="140.99" cy="376.22" r="2.3" fill="#DCC41F"/>
<circle cx="134.16" cy="372.69" r="2.3" fill="#DCC41F"/>
<circle cx="133.01" cy="370.4" r="2.3" fill="#DCC41F"/>
<circle cx="155.98" cy="364.61" r="2.3" fill="#DCC41F"/>
<circle cx="136.09" cy="353.65" r="2.3" fill="#DCC41F"/>
<circle cx="146.28" cy="364.8" r="2.3" fill="#DCC41F"/>
<circle cx="132.2" cy="377" r="2.3" fill="#DCC41F"/>
<circle cx="145.63" cy="370.74" r="2.3" fill="#DCC41F"/>
<circle cx="136.77" cy="356.56" r="2.3" fill="#DCC41F"/>
<circle cx="130.37" cy="359.64" r="2.3" fill="#DCC41F"/>
<circle cx="138.22" cy="362.13" r="2.3" fill="#DCC41F"/>
<circle cx="141.61" cy="374.86" r="2.3" fill="#DCC41F"/>
<circle cx="142.2" cy="354.15" r="2.3" fill="#DCC41F"/>
<circle cx="136.22" cy="372.76" r="2.3" fill="#DCC41F"/>
<circle cx="139.24" cy="349.41" r="2.3" fill="#DCC41F"/>
<circle cx="153.54" cy="359.6" r="2.3" fill="#DCC41F"/>
<circle cx="135.24" cy="362.5" r="2.3" fill="#DCC41F"/>
<circle cx="137.14" cy="361.71" r="2.3" fill="#DCC41F"/>
<circle cx="143.74" cy="361.96" r="2.3" fill="#DCC41F"/>
<circle cx="148.13" cy="357.95" r="2.3" fill="#DCC41F"/>
<circle cx="132.93" cy="351.64" r="2.3" fill="#DCC41F"/>
<circle cx="133.28" cy="365.15" r="2.3" fill="#DCC41F"/>
<circle cx="141.09" cy="374.04" r="2.3" fill="#DCC41F"/>
<circle cx="145.55" cy="370.95" r="2.3" fill="#DCC41F"/>
<circle cx="130.52" cy="353.35" r="2.3" fill="#DCC41F"/>
<circle cx="141.9" cy="366.78" r="2.3" fill="#DCC41F"/>
<circle cx="152.91" cy="359.89" r="2.3" fill="#DCC41F"/>
<circle cx="155.74" cy="355.51" r="2.3" fill="#DCC41F"/>
<circle cx="135.48" cy="379.07" r="2.3" fill="#DCC41F"/>
<circle cx="143.6" cy="351.58" r="2.3" fill="#DCC41F"/>
<circle cx="148.65" cy="364.41" r="2.3" fill="#DCC41F"/>
<circle cx="144.57" cy="353.79" r="2.3" fill="#DCC41F"/>
<circle cx="133.76" cy="367" r="2.3" fill="#DCC41F"/>
<circle cx="143.94" cy="352.92" r="2.3" fill="#DCC41F"/>
<circle cx="143.54" cy="371.49" r="2.3" fill="#DCC41F"/>
<circle cx="152.04" cy="363.61" r="2.3" fill="#DCC41F"/>
<circle cx="142.13" cy="360.19" r="2.3" fill="#DCC41F"/>
<circle cx="136.95" cy="355.12" r="2.3" fill="#DCC41F"/>
<circle cx="143.74" cy="352.35" r="2.3" fill="#DCC41F"/>
<circle cx="152.33" cy="370.96" r="2.3" fill="#DCC41F"/>
<circle cx="141.21" cy="362.41" r="2.3" fill="#DCC41F"/>
<circle cx="132.87" cy="379" r="2.3" fill="#DCC41F"/>
<circle cx="153.27" cy="364.58" r="2.3" fill="#DCC41F"/>
<circle cx="151.72" cy="355.22" r="2.3" fill="#DCC41F"/>
<circle cx="137.07" cy="365.3" r="2.3" fill="#DCC41F"/>
<circle cx="152.91" cy="369.07" r="2.3" fill="#DCC41F"/>
<circle cx="130.21" cy="368.01" r="2.3" fill="#DCC41F"/>
<circle cx="136.89" cy="358.19" r="2.3" fill="#DCC41F"/>
<circle cx="141.37" cy="378.18" r="2.3" fill="#DCC41F"/>
<circle cx="156.19" cy="365" r="2.3" fill="#DCC41F"/>
<circle cx="154.12" cy="358.17" r="2.3" fill="#DCC41F"/>
<circle cx="156.05" cy="355.07" r="2.3" fill="#DCC41F"/>
<circle cx="141.4" cy="378.72" r="2.3" fill="#DCC41F"/>
<circle cx="156.09" cy="358.67" r="2.3" fill="#DCC41F"/>
<circle cx="138.95" cy="368" r="2.3" fill="#DCC41F"/>
<circle cx="155.28" cy="367.75" r="2.3" fill="#DCC41F"/>
<circle cx="141.16" cy="362.25" r="2.3" fill="#DCC41F"/>
<circle cx="145.09" cy="365.4" r="2.3" fill="#DCC41F"/>
<circle cx="155.82" cy="357.33" r="2.3" fill="#DCC41F"/>
<circle cx="132.11" cy="371.73" r="2.3" fill="#DCC41F"/>
<circle cx="138.34" cy="362.01" r="2.3" fill="#DCC41F"/>
<circle cx="133.6" cy="374.71" r="2.3" fill="#DCC41F"/>
<circle cx="138.44" cy="358.04" r="2.3" fill="#DCC41F"/>
<circle cx="154.77" cy="364.63" r="2.3" fill="#DCC41F"/>
<circle cx="138.54" cy="376.54" r="2.3" fill="#DCC41F"/>
<circle cx="142.68" cy="360.2" r="2.3" fill="#DCC41F"/>
<circle cx="153.02" cy="356.75" r="2.3" fill="#DCC41F"/>
<circle cx="155.05" cy="367.49" r="2.3" fill="#DCC41F"/>
<circle cx="155.56" cy="360.41" r="2.3" fill="#DCC41F"/>
<circle cx="141.95" cy="369.3" r="2.3" fill="#DCC41F"/>
<circle cx="134.21" cy="367.92" r="2.3" fill="#DCC41F"/>
<circle cx="144.25" cy="375.93" r="2.3" fill="#DCC41F"/>
<circle cx="132.86" cy="367.82" r="2.3" fill="#DCC41F"/>
<circle cx="139.85" cy="350.2" r="2.3" fill="#DCC41F"/>
<circle cx="142.13" cy="395.32" r="2.3" fill="#DCC41F"/>
<circle cx="118" cy="351" r="2.3" fill="#DCC41F"/>
<circle cx="118.5" cy="357.5" r="2.3" fill="#DCC41F"/>
<circle cx="117.5" cy="360" r="2.3" fill="#DCC41F"/>
<circle cx="159.36" cy="346.18" r="2.3" fill="#DCC41F"/>
<circle cx="175.67" cy="349.45" r="2.3" fill="#DCC41F"/>
<circle cx="165.41" cy="358.3" r="2.3" fill="#DCC41F"/>
<circle cx="169.14" cy="358.3" r="2.3" fill="#DCC41F"/>
<circle cx="157.49" cy="373.21" r="2.3" fill="#DCC41F"/>
<circle cx="147.71" cy="387.19" r="2.3" fill="#DCC41F"/>
<circle cx="142.12" cy="388.59" r="2.3" fill="#DCC41F"/>
<circle cx="143.05" cy="393.71" r="2.3" fill="#DCC41F"/>
<circle cx="180.33" cy="391.85" r="2.3" fill="#DCC41F"/>
<circle cx="133.73" cy="385.33" r="2.3" fill="#DCC41F"/>
<circle cx="131.86" cy="381.6" r="2.3" fill="#DCC41F"/>
<circle cx="139.52" cy="329.51" r="2.3" fill="#5AB74A"/>
<circle cx="126.54" cy="346.03" r="2.3" fill="#5AB74A"/>
<circle cx="143.17" cy="337.66" r="2.3" fill="#5AB74A"/>
<circle cx="122.64" cy="329.7" r="2.3" fill="#5AB74A"/>
<circle cx="149.14" cy="332.14" r="2.3" fill="#5AB74A"/>
<circle cx="130.52" cy="320.72" r="2.3" fill="#5AB74A"/>
<circle cx="141.25" cy="347.95" r="2.3" fill="#5AB74A"/>
<circle cx="144.62" cy="342.94" r="2.3" fill="#5AB74A"/>
<circle cx="136.35" cy="341.99" r="2.3" fill="#5AB74A"/>
<circle cx="125.07" cy="326.75" r="2.3" fill="#5AB74A"/>
<circle cx="147.97" cy="341.31" r="2.3" fill="#5AB74A"/>
<circle cx="131.67" cy="324.03" r="2.3" fill="#5AB74A"/>
<circle cx="132.25" cy="344.12" r="2.3" fill="#5AB74A"/>
<circle cx="128.98" cy="346.69" r="2.3" fill="#5AB74A"/>
<circle cx="136.15" cy="333.47" r="2.3" fill="#5AB74A"/>
<circle cx="121.94" cy="331.23" r="2.3" fill="#5AB74A"/>
<circle cx="144.15" cy="346.99" r="2.3" fill="#5AB74A"/>
<circle cx="124.34" cy="335.08" r="2.3" fill="#5AB74A"/>
<circle cx="140.87" cy="347.85" r="2.3" fill="#5AB74A"/>
<circle cx="137.8" cy="330.34" r="2.3" fill="#5AB74A"/>
<circle cx="145.36" cy="349.1" r="2.3" fill="#5AB74A"/>
<circle cx="123.17" cy="335.59" r="2.3" fill="#5AB74A"/>
<circle cx="149.22" cy="348.86" r="2.3" fill="#5AB74A"/>
<circle cx="130.47" cy="337.47" r="2.3" fill="#5AB74A"/>
<circle cx="122.72" cy="329.26" r="2.3" fill="#5AB74A"/>
<circle cx="147.96" cy="336.77" r="2.3" fill="#5AB74A"/>
<circle cx="134.89" cy="345.95" r="2.3" fill="#5AB74A"/>
<circle cx="144.37" cy="332.12" r="2.3" fill="#5AB74A"/>
<circle cx="152.97" cy="328.01" r="2.3" fill="#5AB74A"/>
<circle cx="138.34" cy="324.15" r="2.3" fill="#5AB74A"/>
<circle cx="138.76" cy="327.88" r="2.3" fill="#5AB74A"/>
<circle cx="124.55" cy="338.09" r="2.3" fill="#5AB74A"/>
<circle cx="125.12" cy="343.27" r="2.3" fill="#5AB74A"/>
<circle cx="122.02" cy="343.15" r="2.3" fill="#5AB74A"/>
<circle cx="153.3" cy="333.66" r="2.3" fill="#5AB74A"/>
<circle cx="149.38" cy="325.32" r="2.3" fill="#5AB74A"/>
<circle cx="150.5" cy="331.24" r="2.3" fill="#5AB74A"/>
<circle cx="137.04" cy="329.49" r="2.3" fill="#5AB74A"/>
<circle cx="155.4" cy="329.37" r="2.3" fill="#5AB74A"/>
<circle cx="129.34" cy="330.03" r="2.3" fill="#5AB74A"/>
<circle cx="145.46" cy="349.38" r="2.3" fill="#5AB74A"/>
<circle cx="124.46" cy="335.62" r="2.3" fill="#5AB74A"/>
<circle cx="139.06" cy="340.58" r="2.3" fill="#5AB74A"/>
<circle cx="151.57" cy="329.83" r="2.3" fill="#5AB74A"/>
<circle cx="149.62" cy="342.85" r="2.3" fill="#5AB74A"/>
<circle cx="156.21" cy="333.56" r="2.3" fill="#5AB74A"/>
<circle cx="124.97" cy="318.62" r="2.3" fill="#5AB74A"/>
<circle cx="139.27" cy="335.73" r="2.3" fill="#5AB74A"/>
<circle cx="136.53" cy="322.8" r="2.3" fill="#5AB74A"/>
<circle cx="140.28" cy="348.71" r="2.3" fill="#5AB74A"/>
<circle cx="142.42" cy="348.53" r="2.3" fill="#5AB74A"/>
<circle cx="156.56" cy="335.24" r="2.3" fill="#5AB74A"/>
<circle cx="141.94" cy="334.99" r="2.3" fill="#5AB74A"/>
<circle cx="146.71" cy="335.16" r="2.3" fill="#5AB74A"/>
<circle cx="133.01" cy="341.29" r="2.3" fill="#5AB74A"/>
<circle cx="148.98" cy="332.19" r="2.3" fill="#5AB74A"/>
<circle cx="140.61" cy="338.33" r="2.3" fill="#5AB74A"/>
<circle cx="123.12" cy="337.2" r="2.3" fill="#5AB74A"/>
<circle cx="135.93" cy="346.44" r="2.3" fill="#5AB74A"/>
<circle cx="130.24" cy="344.57" r="2.3" fill="#5AB74A"/>
<circle cx="150.18" cy="337.94" r="2.3" fill="#5AB74A"/>
<circle cx="144.88" cy="337.54" r="2.3" fill="#5AB74A"/>
<circle cx="148.12" cy="330.62" r="2.3" fill="#5AB74A"/>
<circle cx="123.76" cy="323.33" r="2.3" fill="#5AB74A"/>
<circle cx="123.6" cy="328.89" r="2.3" fill="#5AB74A"/>
<circle cx="139.81" cy="334.94" r="2.3" fill="#5AB74A"/>
<circle cx="122.04" cy="342.98" r="2.3" fill="#5AB74A"/>
<circle cx="134.35" cy="343.22" r="2.3" fill="#5AB74A"/>
<circle cx="144.61" cy="349.71" r="2.3" fill="#5AB74A"/>
<circle cx="125.25" cy="328.68" r="2.3" fill="#5AB74A"/>
<circle cx="130.25" cy="343.13" r="2.3" fill="#5AB74A"/>
<circle cx="128.69" cy="324.41" r="2.3" fill="#5AB74A"/>
<circle cx="125.42" cy="321.02" r="2.3" fill="#5AB74A"/>
<circle cx="135.9" cy="341.83" r="2.3" fill="#5AB74A"/>
<circle cx="139.7" cy="334.49" r="2.3" fill="#5AB74A"/>
<circle cx="135.78" cy="338.26" r="2.3" fill="#5AB74A"/>
<circle cx="130.45" cy="325.59" r="2.3" fill="#5AB74A"/>
<circle cx="141.71" cy="323.61" r="2.3" fill="#5AB74A"/>
<circle cx="138.57" cy="348.62" r="2.3" fill="#5AB74A"/>
<circle cx="131.05" cy="345.53" r="2.3" fill="#5AB74A"/>
<circle cx="145.21" cy="324.39" r="2.3" fill="#5AB74A"/>
<circle cx="123.34" cy="326.22" r="2.3" fill="#5AB74A"/>
<circle cx="133.01" cy="343.81" r="2.3" fill="#5AB74A"/>
<circle cx="133.71" cy="325.28" r="2.3" fill="#5AB74A"/>
<circle cx="145.17" cy="333.47" r="2.3" fill="#5AB74A"/>
<circle cx="134.88" cy="345.04" r="2.3" fill="#5AB74A"/>
<circle cx="136.96" cy="324" r="2.3" fill="#5AB74A"/>
<circle cx="132.06" cy="332.47" r="2.3" fill="#5AB74A"/>
<circle cx="145.42" cy="336.04" r="2.3" fill="#5AB74A"/>
<circle cx="138.6" cy="323.24" r="2.3" fill="#5AB74A"/>
<circle cx="137.09" cy="327.89" r="2.3" fill="#5AB74A"/>
<circle cx="127.82" cy="335.22" r="2.3" fill="#5AB74A"/>
<circle cx="128.54" cy="340.84" r="2.3" fill="#5AB74A"/>
<circle cx="146.01" cy="328.32" r="2.3" fill="#5AB74A"/>
<circle cx="138.88" cy="337.32" r="2.3" fill="#5AB74A"/>
<circle cx="151.46" cy="346.6" r="2.3" fill="#5AB74A"/>
<circle cx="142.68" cy="328.23" r="2.3" fill="#5AB74A"/>
<circle cx="121.76" cy="335.51" r="2.3" fill="#5AB74A"/>
<circle cx="139.82" cy="346.04" r="2.3" fill="#5AB74A"/>
<circle cx="133.95" cy="344.92" r="2.3" fill="#5AB74A"/>
<circle cx="149.68" cy="326.54" r="2.3" fill="#5AB74A"/>
<circle cx="122.68" cy="322" r="2.3" fill="#5AB74A"/>
<circle cx="127.53" cy="320.22" r="2.3" fill="#5AB74A"/>
<circle cx="146.97" cy="330.25" r="2.3" fill="#5AB74A"/>
<circle cx="156.54" cy="333.96" r="2.3" fill="#5AB74A"/>
<circle cx="126.39" cy="340.12" r="2.3" fill="#5AB74A"/>
<circle cx="135.36" cy="326.04" r="2.3" fill="#5AB74A"/>
<circle cx="133.82" cy="329.9" r="2.3" fill="#5AB74A"/>
<circle cx="128.3" cy="337.52" r="2.3" fill="#5AB74A"/>
<circle cx="155.74" cy="336.12" r="2.3" fill="#5AB74A"/>
<circle cx="121.38" cy="339.92" r="2.3" fill="#5AB74A"/>
<circle cx="121.8" cy="333.04" r="2.3" fill="#5AB74A"/>
<circle cx="155.63" cy="339.68" r="2.3" fill="#5AB74A"/>
<circle cx="157.33" cy="342.28" r="2.3" fill="#5AB74A"/>
<circle cx="131.91" cy="321.81" r="2.3" fill="#5AB74A"/>
<circle cx="139.06" cy="339.77" r="2.3" fill="#5AB74A"/>
<circle cx="130.28" cy="328.09" r="2.3" fill="#5AB74A"/>
<circle cx="150.92" cy="328.65" r="2.3" fill="#5AB74A"/>
<circle cx="145.04" cy="335.27" r="2.3" fill="#5AB74A"/>
<circle cx="128.46" cy="343.08" r="2.3" fill="#5AB74A"/>
<circle cx="126.38" cy="324.06" r="2.3" fill="#5AB74A"/>
<circle cx="142.73" cy="347.23" r="2.3" fill="#5AB74A"/>
<circle cx="129.66" cy="323.79" r="2.3" fill="#5AB74A"/>
<circle cx="148.43" cy="331.17" r="2.3" fill="#5AB74A"/>
<circle cx="158.45" cy="340.97" r="2.3" fill="#5AB74A"/>
<circle cx="153.33" cy="330.35" r="2.3" fill="#5AB74A"/>
<circle cx="139.54" cy="338.18" r="2.3" fill="#5AB74A"/>
<circle cx="159.56" cy="335.63" r="2.3" fill="#5AB74A"/>
<circle cx="124.4" cy="328.88" r="2.3" fill="#5AB74A"/>
<circle cx="156.54" cy="342.71" r="2.3" fill="#5AB74A"/>
<circle cx="142.25" cy="348.25" r="2.3" fill="#5AB74A"/>
<circle cx="142.59" cy="339.46" r="2.3" fill="#5AB74A"/>
<circle cx="123.26" cy="345.6" r="2.3" fill="#5AB74A"/>
<circle cx="144.24" cy="323.71" r="2.3" fill="#5AB74A"/>
<circle cx="141" cy="342" r="2.3" fill="#5AB74A"/>
<circle cx="145" cy="343" r="2.3" fill="#5AB74A"/>
<circle cx="149" cy="341.5" r="2.3" fill="#5AB74A"/>
<circle cx="152" cy="344" r="2.3" fill="#5AB74A"/>
<circle cx="148" cy="346" r="2.3" fill="#5AB74A"/>
<circle cx="143" cy="346.5" r="2.3" fill="#5AB74A"/>
<circle cx="139" cy="345" r="2.3" fill="#5AB74A"/>
<circle cx="136" cy="342.5" r="2.3" fill="#5AB74A"/>
<circle cx="155" cy="341" r="2.3" fill="#5AB74A"/>
<circle cx="150" cy="348" r="2.3" fill="#5AB74A"/>
<circle cx="119.98" cy="260.03" r="2.3" fill="#5AB74A"/>
<circle cx="120.74" cy="260.03" r="2.3" fill="#5AB74A"/>
<circle cx="133.28" cy="268.44" r="2.3" fill="#5AB74A"/>
<circle cx="128.85" cy="275.82" r="2.3" fill="#5AB74A"/>
<circle cx="128.46" cy="291.65" r="2.3" fill="#5AB74A"/>
<circle cx="132.19" cy="288.85" r="2.3" fill="#5AB74A"/>
<circle cx="121.94" cy="303.3" r="2.3" fill="#5AB74A"/>
<circle cx="123.8" cy="306.1" r="2.3" fill="#5AB74A"/>
<circle cx="120.07" cy="310.75" r="2.3" fill="#5AB74A"/>
<circle cx="131.26" cy="307.96" r="2.3" fill="#5AB74A"/>
<circle cx="131.26" cy="312.15" r="2.3" fill="#5AB74A"/>
<circle cx="136.85" cy="313.55" r="2.3" fill="#5AB74A"/>
<circle cx="117.28" cy="318.21" r="2.3" fill="#5AB74A"/>
<circle cx="123.8" cy="320.07" r="2.3" fill="#5AB74A"/>
<circle cx="125.67" cy="318.68" r="2.3" fill="#5AB74A"/>
<circle cx="126.6" cy="322.87" r="2.3" fill="#5AB74A"/>
<circle cx="122.87" cy="325.67" r="2.3" fill="#5AB74A"/>
<circle cx="121.01" cy="331.26" r="2.3" fill="#5AB74A"/>
<circle cx="119.14" cy="334.05" r="2.3" fill="#5AB74A"/>
<circle cx="123.8" cy="335.92" r="2.3" fill="#5AB74A"/>
<circle cx="130.33" cy="324.73" r="2.3" fill="#5AB74A"/>
<circle cx="133.12" cy="326.6" r="2.3" fill="#5AB74A"/>
<circle cx="135.92" cy="324.73" r="2.3" fill="#5AB74A"/>
<circle cx="138.71" cy="326.6" r="2.3" fill="#5AB74A"/>
<circle cx="128.46" cy="330.33" r="2.3" fill="#5AB74A"/>
<circle cx="132.19" cy="332.19" r="2.3" fill="#5AB74A"/>
<circle cx="135.92" cy="331.26" r="2.3" fill="#5AB74A"/>
<circle cx="137.78" cy="334.05" r="2.3" fill="#5AB74A"/>
<circle cx="130.33" cy="335.92" r="2.3" fill="#5AB74A"/>
<circle cx="134.05" cy="337.78" r="2.3" fill="#5AB74A"/>
<circle cx="138.71" cy="337.78" r="2.3" fill="#5AB74A"/>
<circle cx="126.6" cy="337.78" r="2.3" fill="#5AB74A"/>
<circle cx="121.01" cy="337.78" r="2.3" fill="#5AB74A"/>
<circle cx="132.33" cy="288.85" r="2.3" fill="#5AB74A"/>
<circle cx="130.47" cy="291.18" r="2.3" fill="#5AB74A"/>
<circle cx="162.15" cy="304.7" r="2.3" fill="#5AB74A"/>
<circle cx="131.4" cy="307.96" r="2.3" fill="#5AB74A"/>
<circle cx="130.93" cy="310.75" r="2.3" fill="#5AB74A"/>
<circle cx="136.52" cy="313.08" r="2.3" fill="#5AB74A"/>
<circle cx="149.11" cy="311.22" r="2.3" fill="#5AB74A"/>
<circle cx="158.42" cy="311.69" r="2.3" fill="#5AB74A"/>
<circle cx="166.35" cy="314.95" r="2.3" fill="#5AB74A"/>
<circle cx="155.16" cy="316.35" r="2.3" fill="#5AB74A"/>
<circle cx="157.03" cy="319.14" r="2.3" fill="#5AB74A"/>
<circle cx="143.98" cy="320.54" r="2.3" fill="#5AB74A"/>
<circle cx="151.9" cy="321.94" r="2.3" fill="#5AB74A"/>
<circle cx="152.37" cy="324.73" r="2.3" fill="#5AB74A"/>
<circle cx="167.28" cy="323.34" r="2.3" fill="#5AB74A"/>
<circle cx="172.87" cy="323.34" r="2.3" fill="#5AB74A"/>
<circle cx="164.02" cy="329.39" r="2.3" fill="#5AB74A"/>
<circle cx="169.14" cy="329.39" r="2.3" fill="#5AB74A"/>
<circle cx="176.6" cy="328" r="2.3" fill="#5AB74A"/>
<circle cx="130" cy="323.8" r="2.3" fill="#5AB74A"/>
<circle cx="132.8" cy="324.73" r="2.3" fill="#5AB74A"/>
<circle cx="135.59" cy="325.67" r="2.3" fill="#5AB74A"/>
<circle cx="139.32" cy="326.6" r="2.3" fill="#5AB74A"/>
<circle cx="141.18" cy="329.39" r="2.3" fill="#5AB74A"/>
<circle cx="137.46" cy="329.39" r="2.3" fill="#5AB74A"/>
<circle cx="133.73" cy="328.46" r="2.3" fill="#5AB74A"/>
<circle cx="130.93" cy="328.46" r="2.3" fill="#5AB74A"/>
<circle cx="154.23" cy="326.6" r="2.3" fill="#5AB74A"/>
<circle cx="157.03" cy="328.46" r="2.3" fill="#5AB74A"/>
<circle cx="156.1" cy="332.19" r="2.3" fill="#5AB74A"/>
<circle cx="158.89" cy="334.05" r="2.3" fill="#5AB74A"/>
<circle cx="153.3" cy="335.92" r="2.3" fill="#5AB74A"/>
<circle cx="150.5" cy="337.78" r="2.3" fill="#5AB74A"/>
<circle cx="143.98" cy="335.92" r="2.3" fill="#5AB74A"/>
<circle cx="141.18" cy="336.85" r="2.3" fill="#5AB74A"/>
<circle cx="137.46" cy="337.78" r="2.3" fill="#5AB74A"/>
<circle cx="133.73" cy="335.92" r="2.3" fill="#5AB74A"/>
<circle cx="139.32" cy="332.19" r="2.3" fill="#5AB74A"/>
<circle cx="144.91" cy="332.19" r="2.3" fill="#5AB74A"/>
<circle cx="130" cy="335.92" r="2.3" fill="#5AB74A"/>
<circle cx="161.69" cy="339.65" r="2.3" fill="#5AB74A"/>
<circle cx="165.41" cy="339.65" r="2.3" fill="#5AB74A"/>
<circle cx="160.75" cy="340.59" r="2.3" fill="#5AB74A"/>
<circle cx="166.35" cy="340.59" r="2.3" fill="#5AB74A"/>
<circle cx="168.21" cy="344.32" r="2.3" fill="#5AB74A"/>
<circle cx="185.92" cy="343.39" r="2.3" fill="#5AB74A"/>
<circle cx="173.8" cy="348.98" r="2.3" fill="#5AB74A"/>
<circle cx="154.23" cy="348.98" r="2.3" fill="#5AB74A"/>
<circle cx="151.44" cy="346.18" r="2.3" fill="#5AB74A"/>
<circle cx="185.64" cy="342.95" r="2.3" fill="#5AB74A"/>
<circle cx="118.2" cy="274.6" r="2.4" fill="#3BBFC7" stroke="#111" stroke-width="1.3"/>
<text x="120.6" y="271.5">1</text>
<circle cx="104.2" cy="286.6" r="2.4" fill="#3BBFC7" stroke="#111" stroke-width="1.3"/>
<text x="106.9" y="283.8">4</text>
<circle cx="175.9" cy="334.5" r="2.4" fill="#5AB74A" stroke="#111" stroke-width="1.3"/>
<text x="177.8" y="331.2">3</text>
<circle cx="146.7" cy="337" r="2.4" fill="#5AB74A" stroke="#111" stroke-width="1.3"/>
<text x="148.3" y="334">6</text>
<circle cx="142.4" cy="351" r="2.4" fill="#DCC41F" stroke="#111" stroke-width="1.3"/>
<text x="145.9" y="351">5</text>
<circle cx="159.8" cy="387.9" r="2.4" fill="#DCC41F" stroke="#111" stroke-width="1.3"/>
<text x="161.1" y="385.2">2</text>
<line x1="35.8" y1="256.3" x2="35.8" y2="438.8" stroke="#555" stroke-width="1"/>
<line x1="35.8" y1="438.6" x2="214.4" y2="438.6" stroke="#555" stroke-width="1"/>
<line x1="35.8" y1="256.8" x2="37.6" y2="256.8" stroke="#555" stroke-width="1"/>
<line x1="35.8" y1="317.4" x2="37.6" y2="317.4" stroke="#555" stroke-width="1"/>
<line x1="35.8" y1="378.2" x2="37.6" y2="378.2" stroke="#555" stroke-width="1"/>
<line x1="95.4" y1="438.6" x2="95.4" y2="436.8" stroke="#555" stroke-width="1"/>
<line x1="154.7" y1="438.6" x2="154.7" y2="436.8" stroke="#555" stroke-width="1"/>
<line x1="214.2" y1="438.6" x2="214.2" y2="436.8" stroke="#555" stroke-width="1"/>
<line x1="95.4" y1="256.8" x2="95.4" y2="438.6" stroke="#111" stroke-width="0.9"/>
<line x1="35.8" y1="378.3" x2="214.4" y2="378.3" stroke="#111" stroke-width="0.9"/>
<text x="31.3" y="260.4" text-anchor="end">1</text>
<text x="31.3" y="320.9" text-anchor="end">0.5</text>
<text x="31.3" y="381.8" text-anchor="end">0</text>
<text x="31.3" y="442.2" text-anchor="end">−0.5</text>
<text x="35.3" y="450.8" text-anchor="middle">−0.5</text>
<text x="95.6" y="450.8" text-anchor="middle">0</text>
<text x="155" y="450.8" text-anchor="middle">0.5</text>
<text x="213.9" y="450.8" text-anchor="middle">1</text>
<text x="125.4" y="465" text-anchor="middle">Engagement modulation</text>
<text x="8.6" y="347.2" text-anchor="middle" transform="rotate(-90 8.6 347.2)">Contrast modulation</text>
<text x="167" y="264.2">Modulated</text>
<text x="179.5" y="276.2" fill="#55c5cc">By con.</text>
<text x="179.5" y="290.6" fill="#dcc93f">By eng.</text>
<text x="179.5" y="304.4" fill="#64bb56">By both</text>
<text x="454.2" y="11.3">PPC examples</text>
<text x="373.2" y="27.8" text-anchor="middle">Modulated by</text>
<text x="373.2" y="39.4" text-anchor="middle">contrast</text>
<text x="489.8" y="27.8" text-anchor="middle">Modulated by</text>
<text x="489.8" y="39.4" text-anchor="middle">engagement</text>
<text x="605.9" y="27.8" text-anchor="middle">Modulated by</text>
<text x="605.9" y="39.4" text-anchor="middle">both</text>
<rect x="338.4" y="45.9" width="16.3" height="78.4" fill="#e6e6e6"/>
<rect x="381" y="45.9" width="17" height="78.4" fill="#e6e6e6"/>
<rect x="456.3" y="45.9" width="16.3" height="78.4" fill="#e6e6e6"/>
<rect x="499.3" y="45.9" width="16.4" height="78.4" fill="#e6e6e6"/>
<rect x="572.4" y="45.9" width="16.9" height="78.4" fill="#e6e6e6"/>
<rect x="616" y="45.9" width="16.8" height="78.4" fill="#e6e6e6"/>
<text x="328.8" y="62" fill="#55c5cc">1</text>
<text x="445.6" y="62.3" fill="#dcc93f">2</text>
<text x="562.3" y="62.3" fill="#64bb56">3</text>
<polyline points="337.52,110.95 341.02,109.2 344.53,105.7 346.28,106.57 348.91,104.82 351.53,106.57 354.16,103.07 357.67,100.44 360.29,99.22 362.92,102.19 365.55,107.45 368.18,110.08" fill="none" stroke="#a9dcdc" stroke-width="2.6" stroke-linejoin="round" stroke-linecap="round"/>
<polyline points="331.39,110.95 336.64,112.7 339.27,99.57 341.9,89.05 344.53,83.8 347.15,82.05 349.78,84.67 352.41,86.43 355.04,75.04 357.67,61.02 360.29,50.51 362.92,66.28 365.55,78.54 369.05,89.93" fill="none" stroke="#5cc0c5" stroke-width="2.6" stroke-linejoin="round" stroke-linecap="round"/>
<polyline points="331.39,110.95 334.02,112.7 336.64,113.58 338.4,106.57 341.02,89.05 343.65,75.04 346.28,68.03 348.91,69.78 351.53,73.29 354.16,69.78 356.79,59.27 358.89,48.76 360.64,46.13 362.4,57.52 364.67,68.03 366.43,73.29 369.05,75.04" fill="none" stroke="#33b3bb" stroke-width="2.6" stroke-linejoin="round" stroke-linecap="round"/>
<polyline points="380.44,110.95 383.07,107.45 385.7,103.07 388.33,103.07 391.83,103.42 394.46,102.19 397.08,100.44 399.71,102.19 402.34,103.07 404.97,102.19 407.6,100.44 410.22,101.32 411.98,104.82" fill="none" stroke="#dadada" stroke-width="2.6" stroke-linejoin="round" stroke-linecap="round"/>
<polyline points="383.95,97.81 386.57,84.67 389.2,84.67 391.83,89.05 394.46,87.3 397.08,85.55 399.71,84.67 402.34,89.05 404.97,87.3 406.72,92.56 409.35,91.68 411.98,99.57" fill="none" stroke="#ababab" stroke-width="2.6" stroke-linejoin="round" stroke-linecap="round"/>
<polyline points="374.31,111.83 376.94,110.95 380.44,112.18 383.07,99.57 385.7,83.8 387.45,75.91 390.08,74.16 392.7,76.79 395.33,72.41 397.96,68.91 400.59,68.03 402.34,71.53 404.09,77.67 405.84,81.17 408.47,81.17 411.1,86.43" fill="none" stroke="#838383" stroke-width="2.6" stroke-linejoin="round" stroke-linecap="round"/>
<polyline points="449.78,111.96 454.13,113.04 458.48,110.87 461.74,101.09 465,90.22 468.26,80.43 470.43,83.7 472.61,76.09 474.78,69.57 476.96,79.35 479.13,92.39 482.39,100 486.09,106.52" fill="none" stroke="#ecdf8c" stroke-width="2.6" stroke-linejoin="round" stroke-linecap="round"/>
<polyline points="449.78,113.04 454.13,114.13 458.48,111.96 461.74,102.17 465,91.3 468.26,82.61 470.43,86.96 472.61,78.26 474.78,71.74 476.96,80.43 479.13,93.48 482.39,101.09 485.65,104.35" fill="none" stroke="#e2cd45" stroke-width="2.6" stroke-linejoin="round" stroke-linecap="round"/>
<polyline points="448.7,108.7 451.96,110.87 455.22,109.78 458.48,106.52 461.74,95.65 465,86.96 468.26,76.09 470.43,65.22 472.61,52.17 474.13,45.65 475.87,56.52 478.04,82.61 480.22,97.83 483.48,102.17 486.74,107.61" fill="none" stroke="#dcc41f" stroke-width="2.6" stroke-linejoin="round" stroke-linecap="round"/>
<polyline points="492.17,111.96 496.52,109.78 500.87,107.61 505.22,107.61 509.57,106.52 512.83,110.87 516.09,111.96 519.35,114.13 522.61,116.3 525.87,118.48 529.13,117.39" fill="none" stroke="#9a9a9a" stroke-width="2.6" stroke-linejoin="round" stroke-linecap="round"/>
<polyline points="492.17,113.04 495.43,110.87 498.7,108.7 501.96,107.61 505.22,106.52 508.48,105.43 510.65,104.35 512.83,107.61 516.09,109.78 519.35,110.87 522.61,108.7 525.87,109.78 529.13,109.78" fill="none" stroke="#c8c8c8" stroke-width="2.6" stroke-linejoin="round" stroke-linecap="round"/>
<polyline points="566.52,115.22 571.96,114.13 577.39,113.04 581.74,110.87 585,108.7 587.17,104.35 589.35,91.3 591.52,65.22 593.04,50 594.78,54.35 596.96,69.57 600.22,86.96 602.83,95.65" fill="none" stroke="#a8d9a0" stroke-width="2.6" stroke-linejoin="round" stroke-linecap="round"/>
<polyline points="565.43,114.13 570.87,113.04 575.22,109.78 579.57,104.35 582.83,101.09 586.09,100 588.26,91.3 590.43,69.57 592.61,50 594.78,54.35 596.96,69.57 600.22,84.78 602.83,94.57" fill="none" stroke="#7cc470" stroke-width="2.6" stroke-linejoin="round" stroke-linecap="round"/>
<polyline points="565.43,114.13 569.78,113.04 573.04,110.87 576.3,106.52 579.57,101.09 582.83,96.74 586.09,94.57 588.26,86.96 590.43,69.57 592.17,54.35 593.26,45.65 594.78,47.83 596.52,63.04 599.13,76.09 601.74,84.78 603.48,89.13" fill="none" stroke="#55b545" stroke-width="2.6" stroke-linejoin="round" stroke-linecap="round"/>
<polyline points="611.09,113.04 614.35,115.22 618.7,115.22 621.96,117.39 625.22,116.3 629.57,115.22 633.91,114.13 638.26,114.13 642.61,114.13 645.87,115.22" fill="none" stroke="#c8c8c8" stroke-width="2.6" stroke-linejoin="round" stroke-linecap="round"/>
<polyline points="608.91,111.96 612.17,114.13 615.43,113.04 618.7,115.22 621.96,116.3 625.22,117.39 628.48,114.13 631.74,110.87 635,109.78 638.26,108.7 641.52,108.7 644.78,107.61 646.96,110.87" fill="none" stroke="#8a8a8a" stroke-width="2.6" stroke-linejoin="round" stroke-linecap="round"/>
<line x1="416" y1="111" x2="416" y2="125.2" stroke="#111" stroke-width="1.1"/>
<line x1="406.7" y1="125.2" x2="416.5" y2="125.2" stroke="#111" stroke-width="1.1"/>
<text x="412.7" y="132.9" text-anchor="middle" font-size="8.5">1 s</text>
<text x="419.3" y="118.5" text-anchor="middle" font-size="8.5" transform="rotate(90 419.3 118.5)">20%</text>
<line x1="533.9" y1="111" x2="533.9" y2="125.2" stroke="#111" stroke-width="1.1"/>
<line x1="524.6" y1="125.2" x2="534.4" y2="125.2" stroke="#111" stroke-width="1.1"/>
<text x="530.6" y="132.9" text-anchor="middle" font-size="8.5">1 s</text>
<text x="537.2" y="118.5" text-anchor="middle" font-size="8.5" transform="rotate(90 537.2 118.5)">20%</text>
<line x1="649.8" y1="111" x2="649.8" y2="125.2" stroke="#111" stroke-width="1.1"/>
<line x1="640.5" y1="125.2" x2="650.3" y2="125.2" stroke="#111" stroke-width="1.1"/>
<text x="646.5" y="132.9" text-anchor="middle" font-size="8.5">1 s</text>
<text x="653.1" y="118.5" text-anchor="middle" font-size="8.5" transform="rotate(90 653.1 118.5)">20%</text>
<line x1="331.3" y1="150.7" x2="331.3" y2="229.2" stroke="#2e2e2e" stroke-width="1"/>
<line x1="331.3" y1="229.2" x2="413" y2="229.2" stroke="#2e2e2e" stroke-width="1"/>
<line x1="337.9" y1="229.2" x2="337.9" y2="227.4" stroke="#2e2e2e" stroke-width="0.9"/>
<line x1="351.55" y1="229.2" x2="351.55" y2="227.4" stroke="#2e2e2e" stroke-width="0.9"/>
<line x1="365.2" y1="229.2" x2="365.2" y2="227.4" stroke="#2e2e2e" stroke-width="0.9"/>
<line x1="378.85" y1="229.2" x2="378.85" y2="227.4" stroke="#2e2e2e" stroke-width="0.9"/>
<line x1="392.5" y1="229.2" x2="392.5" y2="227.4" stroke="#2e2e2e" stroke-width="0.9"/>
<line x1="406.15" y1="229.2" x2="406.15" y2="227.4" stroke="#2e2e2e" stroke-width="0.9"/>
<line x1="331.3" y1="159.4" x2="333.1" y2="159.4" stroke="#2e2e2e" stroke-width="0.9"/>
<text x="327.3" y="163" text-anchor="end">80</text>
<line x1="331.3" y1="229.2" x2="333.1" y2="229.2" stroke="#2e2e2e" stroke-width="0.9"/>
<text x="327.3" y="232.8" text-anchor="end">0</text>
<line x1="448.6" y1="150.5" x2="448.6" y2="229.2" stroke="#2e2e2e" stroke-width="1"/>
<line x1="448.6" y1="229.2" x2="530.6" y2="229.2" stroke="#2e2e2e" stroke-width="1"/>
<line x1="455.4" y1="229.2" x2="455.4" y2="227.4" stroke="#2e2e2e" stroke-width="0.9"/>
<line x1="469.05" y1="229.2" x2="469.05" y2="227.4" stroke="#2e2e2e" stroke-width="0.9"/>
<line x1="482.7" y1="229.2" x2="482.7" y2="227.4" stroke="#2e2e2e" stroke-width="0.9"/>
<line x1="496.35" y1="229.2" x2="496.35" y2="227.4" stroke="#2e2e2e" stroke-width="0.9"/>
<line x1="510" y1="229.2" x2="510" y2="227.4" stroke="#2e2e2e" stroke-width="0.9"/>
<line x1="523.65" y1="229.2" x2="523.65" y2="227.4" stroke="#2e2e2e" stroke-width="0.9"/>
<line x1="448.6" y1="167.2" x2="450.4" y2="167.2" stroke="#2e2e2e" stroke-width="0.9"/>
<text x="444.6" y="170.8" text-anchor="end">40</text>
<line x1="448.6" y1="216.8" x2="450.4" y2="216.8" stroke="#2e2e2e" stroke-width="0.9"/>
<text x="444.6" y="220.4" text-anchor="end">0</text>
<line x1="565.8" y1="150.7" x2="565.8" y2="229.1" stroke="#2e2e2e" stroke-width="1"/>
<line x1="565.8" y1="229.1" x2="647.6" y2="229.1" stroke="#2e2e2e" stroke-width="1"/>
<line x1="572.5" y1="229.1" x2="572.5" y2="227.3" stroke="#2e2e2e" stroke-width="0.9"/>
<line x1="586.15" y1="229.1" x2="586.15" y2="227.3" stroke="#2e2e2e" stroke-width="0.9"/>
<line x1="599.8" y1="229.1" x2="599.8" y2="227.3" stroke="#2e2e2e" stroke-width="0.9"/>
<line x1="613.45" y1="229.1" x2="613.45" y2="227.3" stroke="#2e2e2e" stroke-width="0.9"/>
<line x1="627.1" y1="229.1" x2="627.1" y2="227.3" stroke="#2e2e2e" stroke-width="0.9"/>
<line x1="640.75" y1="229.1" x2="640.75" y2="227.3" stroke="#2e2e2e" stroke-width="0.9"/>
<line x1="565.8" y1="165.3" x2="567.6" y2="165.3" stroke="#2e2e2e" stroke-width="0.9"/>
<text x="561.8" y="168.9" text-anchor="end">40</text>
<line x1="565.8" y1="213.3" x2="567.6" y2="213.3" stroke="#2e2e2e" stroke-width="0.9"/>
<text x="561.8" y="216.9" text-anchor="end">0</text>
<line x1="331.3" y1="243.3" x2="331.3" y2="321.7" stroke="#2e2e2e" stroke-width="1"/>
<line x1="331.3" y1="321.7" x2="413" y2="321.7" stroke="#2e2e2e" stroke-width="1"/>
<line x1="337.9" y1="321.7" x2="337.9" y2="319.9" stroke="#2e2e2e" stroke-width="0.9"/>
<line x1="351.55" y1="321.7" x2="351.55" y2="319.9" stroke="#2e2e2e" stroke-width="0.9"/>
<line x1="365.2" y1="321.7" x2="365.2" y2="319.9" stroke="#2e2e2e" stroke-width="0.9"/>
<line x1="378.85" y1="321.7" x2="378.85" y2="319.9" stroke="#2e2e2e" stroke-width="0.9"/>
<line x1="392.5" y1="321.7" x2="392.5" y2="319.9" stroke="#2e2e2e" stroke-width="0.9"/>
<line x1="406.15" y1="321.7" x2="406.15" y2="319.9" stroke="#2e2e2e" stroke-width="0.9"/>
<line x1="331.3" y1="251.8" x2="333.1" y2="251.8" stroke="#2e2e2e" stroke-width="0.9"/>
<text x="327.3" y="255.4" text-anchor="end">120</text>
<line x1="331.3" y1="321.7" x2="333.1" y2="321.7" stroke="#2e2e2e" stroke-width="0.9"/>
<text x="327.3" y="325.3" text-anchor="end">0</text>
<line x1="448.6" y1="243.5" x2="448.6" y2="321.6" stroke="#2e2e2e" stroke-width="1"/>
<line x1="448.6" y1="321.6" x2="530.6" y2="321.6" stroke="#2e2e2e" stroke-width="1"/>
<line x1="455.4" y1="321.6" x2="455.4" y2="319.8" stroke="#2e2e2e" stroke-width="0.9"/>
<line x1="469.05" y1="321.6" x2="469.05" y2="319.8" stroke="#2e2e2e" stroke-width="0.9"/>
<line x1="482.7" y1="321.6" x2="482.7" y2="319.8" stroke="#2e2e2e" stroke-width="0.9"/>
<line x1="496.35" y1="321.6" x2="496.35" y2="319.8" stroke="#2e2e2e" stroke-width="0.9"/>
<line x1="510" y1="321.6" x2="510" y2="319.8" stroke="#2e2e2e" stroke-width="0.9"/>
<line x1="523.65" y1="321.6" x2="523.65" y2="319.8" stroke="#2e2e2e" stroke-width="0.9"/>
<line x1="448.6" y1="249.7" x2="450.4" y2="249.7" stroke="#2e2e2e" stroke-width="0.9"/>
<text x="444.6" y="253.3" text-anchor="end">60</text>
<line x1="448.6" y1="321.6" x2="450.4" y2="321.6" stroke="#2e2e2e" stroke-width="0.9"/>
<text x="444.6" y="325.2" text-anchor="end">0</text>
<line x1="565.8" y1="243.3" x2="565.8" y2="321.5" stroke="#2e2e2e" stroke-width="1"/>
<line x1="565.8" y1="321.5" x2="647.6" y2="321.5" stroke="#2e2e2e" stroke-width="1"/>
<line x1="572.5" y1="321.5" x2="572.5" y2="319.7" stroke="#2e2e2e" stroke-width="0.9"/>
<line x1="586.15" y1="321.5" x2="586.15" y2="319.7" stroke="#2e2e2e" stroke-width="0.9"/>
<line x1="599.8" y1="321.5" x2="599.8" y2="319.7" stroke="#2e2e2e" stroke-width="0.9"/>
<line x1="613.45" y1="321.5" x2="613.45" y2="319.7" stroke="#2e2e2e" stroke-width="0.9"/>
<line x1="627.1" y1="321.5" x2="627.1" y2="319.7" stroke="#2e2e2e" stroke-width="0.9"/>
<line x1="640.75" y1="321.5" x2="640.75" y2="319.7" stroke="#2e2e2e" stroke-width="0.9"/>
<line x1="565.8" y1="261.2" x2="567.6" y2="261.2" stroke="#2e2e2e" stroke-width="0.9"/>
<text x="561.8" y="264.8" text-anchor="end">40</text>
<line x1="565.8" y1="314.9" x2="567.6" y2="314.9" stroke="#2e2e2e" stroke-width="0.9"/>
<text x="561.8" y="318.5" text-anchor="end">0</text>
<text x="307.5" y="189.7" text-anchor="middle" transform="rotate(-90 307.5 189.7)">Δ<tspan font-style="italic">F</tspan>/<tspan font-style="italic">F</tspan> (%)</text>
<text x="307.5" y="282.9" text-anchor="middle" transform="rotate(-90 307.5 282.9)">Δ<tspan font-style="italic">F</tspan>/<tspan font-style="italic">F</tspan> (%)</text>
<text x="489" y="333" text-anchor="middle">Contrast (%)</text>
<text x="335.4" y="162.2" fill="#55c5cc">1</text>
<text x="452" y="162.2" fill="#dcc93f">2</text>
<text x="569.8" y="162.4" fill="#64bb56">3</text>
<text x="335.2" y="255" fill="#55c5cc">4</text>
<text x="452.3" y="254.2" fill="#dcc93f">5</text>
<text x="569.8" y="255" fill="#64bb56">6</text>
<line x1="337.85" y1="212.06" x2="337.85" y2="220.44" stroke="#858585" stroke-width="1.4"/>
<line x1="337.05" y1="215.55" x2="338.65" y2="215.55" stroke="#858585" stroke-width="1"/>
<line x1="351.54" y1="198.79" x2="351.54" y2="207.17" stroke="#858585" stroke-width="1.4"/>
<line x1="350.74" y1="203.68" x2="352.34" y2="203.68" stroke="#858585" stroke-width="1"/>
<line x1="365.23" y1="193.2" x2="365.23" y2="200.88" stroke="#858585" stroke-width="1.4"/>
<line x1="364.43" y1="198.09" x2="366.03" y2="198.09" stroke="#858585" stroke-width="1"/>
<line x1="378.79" y1="186.91" x2="378.79" y2="196.69" stroke="#858585" stroke-width="1.4"/>
<line x1="377.99" y1="192.5" x2="379.59" y2="192.5" stroke="#858585" stroke-width="1"/>
<line x1="392.48" y1="174.34" x2="392.48" y2="182.02" stroke="#858585" stroke-width="1.4"/>
<line x1="391.68" y1="178.53" x2="393.28" y2="178.53" stroke="#858585" stroke-width="1"/>
<line x1="406.31" y1="166.65" x2="406.31" y2="175.04" stroke="#858585" stroke-width="1.4"/>
<line x1="405.51" y1="171.54" x2="407.11" y2="171.54" stroke="#858585" stroke-width="1"/>
<line x1="337.85" y1="214.85" x2="337.85" y2="225.33" stroke="#45bcc3" stroke-width="1.4"/>
<line x1="337.05" y1="221.14" x2="338.65" y2="221.14" stroke="#45bcc3" stroke-width="1"/>
<line x1="351.54" y1="193.2" x2="351.54" y2="206.47" stroke="#45bcc3" stroke-width="1.4"/>
<line x1="350.74" y1="200.88" x2="352.34" y2="200.88" stroke="#45bcc3" stroke-width="1"/>
<line x1="365.23" y1="188.31" x2="365.23" y2="200.18" stroke="#45bcc3" stroke-width="1.4"/>
<line x1="364.43" y1="194.59" x2="366.03" y2="194.59" stroke="#45bcc3" stroke-width="1"/>
<line x1="378.79" y1="179.23" x2="378.79" y2="191.1" stroke="#45bcc3" stroke-width="1.4"/>
<line x1="377.99" y1="185.51" x2="379.59" y2="185.51" stroke="#45bcc3" stroke-width="1"/>
<line x1="392.48" y1="172.24" x2="392.48" y2="183.42" stroke="#45bcc3" stroke-width="1.4"/>
<line x1="391.68" y1="177.83" x2="393.28" y2="177.83" stroke="#45bcc3" stroke-width="1"/>
<line x1="406.31" y1="150.59" x2="406.31" y2="160.37" stroke="#45bcc3" stroke-width="1.4"/>
<line x1="405.51" y1="155.48" x2="407.11" y2="155.48" stroke="#45bcc3" stroke-width="1"/>
<path d="M331.29,215.55 C332.38,215.32 335.64,214.85 337.85,214.15 C340.06,213.45 342.28,212.41 344.56,211.36 C346.84,210.31 349.22,209.26 351.54,207.87 C353.87,206.47 356.25,204.49 358.53,202.98 C360.81,201.46 363.02,200.3 365.23,198.79 C367.45,197.27 369.54,195.64 371.8,193.9 C374.06,192.15 376.46,190.17 378.79,188.31 C381.11,186.45 383.49,184.47 385.77,182.72 C388.05,180.97 390.26,179.34 392.48,177.83 C394.69,176.32 396.74,174.8 399.04,173.64 C401.35,172.48 403.98,171.66 406.31,170.85 C408.64,170.03 411.9,169.1 413.01,168.75" fill="none" stroke="#8a8a8a" stroke-width="1.6"/>
<path d="M331.29,214.85 C332.38,214.62 335.64,214.15 337.85,213.45 C340.06,212.76 342.28,211.59 344.56,210.66 C346.84,209.73 349.22,209.03 351.54,207.87 C353.87,206.7 356.25,205.07 358.53,203.68 C360.81,202.28 363.02,201.23 365.23,199.48 C367.45,197.74 369.54,195.53 371.8,193.2 C374.06,190.87 376.46,187.96 378.79,185.51 C381.11,183.07 383.49,180.86 385.77,178.53 C388.05,176.2 390.26,173.64 392.48,171.54 C394.69,169.45 396.74,167.7 399.04,165.96 C401.35,164.21 403.98,162.46 406.31,161.07 C408.64,159.67 411.9,158.16 413.01,157.57" fill="none" stroke="#3BBFC7" stroke-width="1.6"/>
<line x1="455.44" y1="211.42" x2="455.44" y2="228.94" stroke="#858585" stroke-width="1.4"/>
<line x1="454.64" y1="219.45" x2="456.24" y2="219.45" stroke="#858585" stroke-width="1"/>
<line x1="469.01" y1="212.15" x2="469.01" y2="220.91" stroke="#858585" stroke-width="1.4"/>
<line x1="468.21" y1="216.53" x2="469.81" y2="216.53" stroke="#858585" stroke-width="1"/>
<line x1="482.74" y1="207.04" x2="482.74" y2="216.53" stroke="#858585" stroke-width="1.4"/>
<line x1="481.94" y1="211.42" x2="483.54" y2="211.42" stroke="#858585" stroke-width="1"/>
<line x1="496.46" y1="217.26" x2="496.46" y2="228.94" stroke="#858585" stroke-width="1.4"/>
<line x1="495.66" y1="223.83" x2="497.26" y2="223.83" stroke="#858585" stroke-width="1"/>
<line x1="510.18" y1="199.01" x2="510.18" y2="226.02" stroke="#858585" stroke-width="1.4"/>
<line x1="509.38" y1="212.15" x2="510.98" y2="212.15" stroke="#858585" stroke-width="1"/>
<line x1="523.61" y1="212.15" x2="523.61" y2="220.91" stroke="#858585" stroke-width="1.4"/>
<line x1="522.81" y1="216.53" x2="524.41" y2="216.53" stroke="#858585" stroke-width="1"/>
<line x1="455.44" y1="166.17" x2="455.44" y2="186.61" stroke="#DCC41F" stroke-width="1.4"/>
<line x1="454.64" y1="176.39" x2="456.24" y2="176.39" stroke="#DCC41F" stroke-width="1"/>
<line x1="469.01" y1="160.33" x2="469.01" y2="183.69" stroke="#DCC41F" stroke-width="1.4"/>
<line x1="468.21" y1="172.74" x2="469.81" y2="172.74" stroke="#DCC41F" stroke-width="1"/>
<line x1="482.74" y1="150.55" x2="482.74" y2="172.01" stroke="#DCC41F" stroke-width="1.4"/>
<line x1="481.94" y1="160.33" x2="483.54" y2="160.33" stroke="#DCC41F" stroke-width="1"/>
<line x1="496.46" y1="162.52" x2="496.46" y2="180.04" stroke="#DCC41F" stroke-width="1.4"/>
<line x1="495.66" y1="172.01" x2="497.26" y2="172.01" stroke="#DCC41F" stroke-width="1"/>
<line x1="510.18" y1="167.63" x2="510.18" y2="196.09" stroke="#DCC41F" stroke-width="1.4"/>
<line x1="509.38" y1="181.5" x2="510.98" y2="181.5" stroke="#DCC41F" stroke-width="1"/>
<line x1="523.61" y1="163.98" x2="523.61" y2="192.45" stroke="#DCC41F" stroke-width="1.4"/>
<line x1="522.81" y1="178.58" x2="524.41" y2="178.58" stroke="#DCC41F" stroke-width="1"/>
<line x1="448.6" y1="216.8" x2="530.6" y2="216.8" stroke="#8a8a8a" stroke-width="1.6"/>
<line x1="448.6" y1="172.4" x2="530.6" y2="172.4" stroke="#DCC41F" stroke-width="1.6"/>
<line x1="572.46" y1="195.86" x2="572.46" y2="223.76" stroke="#858585" stroke-width="1.4"/>
<line x1="571.66" y1="215.22" x2="573.26" y2="215.22" stroke="#858585" stroke-width="1"/>
<line x1="585.94" y1="209.53" x2="585.94" y2="215.22" stroke="#858585" stroke-width="1.4"/>
<line x1="585.14" y1="212.38" x2="586.74" y2="212.38" stroke="#858585" stroke-width="1"/>
<line x1="599.6" y1="215.22" x2="599.6" y2="225.66" stroke="#858585" stroke-width="1.4"/>
<line x1="598.8" y1="219.97" x2="600.4" y2="219.97" stroke="#858585" stroke-width="1"/>
<line x1="613.27" y1="219.02" x2="613.27" y2="228.51" stroke="#858585" stroke-width="1.4"/>
<line x1="612.47" y1="223.76" x2="614.07" y2="223.76" stroke="#858585" stroke-width="1"/>
<line x1="626.74" y1="209.53" x2="626.74" y2="219.97" stroke="#858585" stroke-width="1.4"/>
<line x1="625.94" y1="213.32" x2="627.54" y2="213.32" stroke="#858585" stroke-width="1"/>
<line x1="640.41" y1="206.11" x2="640.41" y2="219.02" stroke="#858585" stroke-width="1.4"/>
<line x1="639.61" y1="212.38" x2="641.21" y2="212.38" stroke="#858585" stroke-width="1"/>
<line x1="572.46" y1="195.29" x2="572.46" y2="206.68" stroke="#5AB74A" stroke-width="1.4"/>
<line x1="571.66" y1="200.99" x2="573.26" y2="200.99" stroke="#5AB74A" stroke-width="1"/>
<line x1="585.94" y1="180.11" x2="585.94" y2="192.45" stroke="#5AB74A" stroke-width="1.4"/>
<line x1="585.14" y1="185.24" x2="586.74" y2="185.24" stroke="#5AB74A" stroke-width="1"/>
<line x1="599.6" y1="181.06" x2="599.6" y2="194.35" stroke="#5AB74A" stroke-width="1.4"/>
<line x1="598.8" y1="187.7" x2="600.4" y2="187.7" stroke="#5AB74A" stroke-width="1"/>
<line x1="613.27" y1="178.21" x2="613.27" y2="192.45" stroke="#5AB74A" stroke-width="1.4"/>
<line x1="612.47" y1="184.86" x2="614.07" y2="184.86" stroke="#5AB74A" stroke-width="1"/>
<line x1="626.74" y1="164.93" x2="626.74" y2="185.8" stroke="#5AB74A" stroke-width="1.4"/>
<line x1="625.94" y1="175.37" x2="627.54" y2="175.37" stroke="#5AB74A" stroke-width="1"/>
<line x1="640.41" y1="150.31" x2="640.41" y2="168.72" stroke="#5AB74A" stroke-width="1.4"/>
<line x1="639.61" y1="159.23" x2="641.21" y2="159.23" stroke="#5AB74A" stroke-width="1"/>
<line x1="565.8" y1="215.8" x2="647.6" y2="215.8" stroke="#8a8a8a" stroke-width="1.6"/>
<path d="M565.82,196.81 C566.93,196.65 570.15,196.34 572.46,195.86 C574.77,195.39 577.43,194.6 579.67,193.97 C581.92,193.33 583.72,192.8 585.94,192.07 C588.15,191.34 590.68,190.49 592.96,189.6 C595.24,188.71 597.39,187.7 599.6,186.75 C601.81,185.8 603.97,185.01 606.24,183.91 C608.52,182.8 610.96,181.38 613.27,180.11 C615.57,178.85 617.85,177.74 620.1,176.32 C622.34,174.89 624.46,172.99 626.74,171.57 C629.02,170.15 631.49,169.04 633.76,167.77 C636.04,166.51 638.1,165.24 640.41,163.98 C642.71,162.71 646.42,160.82 647.62,160.18" fill="none" stroke="#5AB74A" stroke-width="1.6"/>
<line x1="337.52" y1="307.7" x2="337.52" y2="320.12" stroke="#858585" stroke-width="1.4"/>
<line x1="336.72" y1="313.91" x2="338.32" y2="313.91" stroke="#858585" stroke-width="1"/>
<line x1="351.18" y1="287.52" x2="351.18" y2="301.49" stroke="#858585" stroke-width="1.4"/>
<line x1="350.38" y1="294.66" x2="351.98" y2="294.66" stroke="#858585" stroke-width="1"/>
<line x1="364.84" y1="281.3" x2="364.84" y2="295.28" stroke="#858585" stroke-width="1.4"/>
<line x1="364.04" y1="288.45" x2="365.64" y2="288.45" stroke="#858585" stroke-width="1"/>
<line x1="379.13" y1="270.43" x2="379.13" y2="282.86" stroke="#858585" stroke-width="1.4"/>
<line x1="378.33" y1="276.65" x2="379.93" y2="276.65" stroke="#858585" stroke-width="1"/>
<line x1="392.8" y1="259.57" x2="392.8" y2="276.65" stroke="#858585" stroke-width="1.4"/>
<line x1="392" y1="267.33" x2="393.6" y2="267.33" stroke="#858585" stroke-width="1"/>
<line x1="406.46" y1="242.48" x2="406.46" y2="259.57" stroke="#858585" stroke-width="1.4"/>
<line x1="405.66" y1="250.25" x2="407.26" y2="250.25" stroke="#858585" stroke-width="1"/>
<line x1="337.52" y1="300.87" x2="337.52" y2="309.25" stroke="#3BBFC7" stroke-width="1.4"/>
<line x1="336.72" y1="304.6" x2="338.32" y2="304.6" stroke="#3BBFC7" stroke-width="1"/>
<line x1="351.18" y1="289.07" x2="351.18" y2="301.49" stroke="#3BBFC7" stroke-width="1.4"/>
<line x1="350.38" y1="295.28" x2="351.98" y2="295.28" stroke="#3BBFC7" stroke-width="1"/>
<line x1="364.84" y1="285.96" x2="364.84" y2="301.49" stroke="#3BBFC7" stroke-width="1.4"/>
<line x1="364.04" y1="293.73" x2="365.64" y2="293.73" stroke="#3BBFC7" stroke-width="1"/>
<line x1="379.13" y1="271.99" x2="379.13" y2="284.41" stroke="#3BBFC7" stroke-width="1.4"/>
<line x1="378.33" y1="278.2" x2="379.93" y2="278.2" stroke="#3BBFC7" stroke-width="1"/>
<line x1="392.8" y1="247.14" x2="392.8" y2="270.43" stroke="#3BBFC7" stroke-width="1.4"/>
<line x1="392" y1="256.46" x2="393.6" y2="256.46" stroke="#3BBFC7" stroke-width="1"/>
<line x1="406.46" y1="247.14" x2="406.46" y2="261.12" stroke="#3BBFC7" stroke-width="1.4"/>
<line x1="405.66" y1="254.29" x2="407.26" y2="254.29" stroke="#3BBFC7" stroke-width="1"/>
<path d="M331.93,309.25 C332.86,309 335.45,308.48 337.52,307.7 C339.59,306.93 342.07,305.89 344.35,304.6 C346.63,303.3 348.9,301.59 351.18,299.94 C353.46,298.28 355.73,296.73 358.01,294.66 C360.29,292.59 362.46,290 364.84,287.52 C367.23,285.03 369.92,282.18 372.3,279.75 C374.68,277.32 376.85,274.99 379.13,272.92 C381.41,270.85 383.69,269.04 385.96,267.33 C388.24,265.62 390.52,264.07 392.8,262.67 C395.07,261.27 397.35,259.98 399.63,258.94 C401.9,257.91 404.18,257.13 406.46,256.46 C408.74,255.79 412.15,255.17 413.29,254.91" fill="none" stroke="#8a8a8a" stroke-width="1.6"/>
<path d="M331.93,303.66 C332.86,303.61 335.45,303.61 337.52,303.35 C339.59,303.1 342.07,302.68 344.35,302.11 C346.63,301.54 348.9,300.82 351.18,299.94 C353.46,299.06 355.73,298.13 358.01,296.83 C360.29,295.54 362.46,294.24 364.84,292.17 C367.23,290.1 369.92,287 372.3,284.41 C374.68,281.82 376.85,279.23 379.13,276.65 C381.41,274.06 383.69,271.06 385.96,268.88 C388.24,266.71 390.52,265.31 392.8,263.6 C395.07,261.89 397.35,260.08 399.63,258.63 C401.9,257.18 404.18,256.05 406.46,254.91 C408.74,253.77 412.15,252.32 413.29,251.8" fill="none" stroke="#3BBFC7" stroke-width="1.6"/>
<line x1="455.44" y1="302.23" x2="455.44" y2="319.02" stroke="#858585" stroke-width="1.4"/>
<line x1="454.64" y1="310.26" x2="456.24" y2="310.26" stroke="#858585" stroke-width="1"/>
<line x1="469.01" y1="310.99" x2="469.01" y2="320.48" stroke="#858585" stroke-width="1.4"/>
<line x1="468.21" y1="316.1" x2="469.81" y2="316.1" stroke="#858585" stroke-width="1"/>
<line x1="482.74" y1="300.04" x2="482.74" y2="313.18" stroke="#858585" stroke-width="1.4"/>
<line x1="481.94" y1="306.61" x2="483.54" y2="306.61" stroke="#858585" stroke-width="1"/>
<line x1="496.46" y1="297.12" x2="496.46" y2="310.99" stroke="#858585" stroke-width="1.4"/>
<line x1="495.66" y1="303.69" x2="497.26" y2="303.69" stroke="#858585" stroke-width="1"/>
<line x1="510.18" y1="299.31" x2="510.18" y2="312.45" stroke="#858585" stroke-width="1.4"/>
<line x1="509.38" y1="305.88" x2="510.98" y2="305.88" stroke="#858585" stroke-width="1"/>
<line x1="523.61" y1="291.28" x2="523.61" y2="307.34" stroke="#858585" stroke-width="1.4"/>
<line x1="522.81" y1="299.31" x2="524.41" y2="299.31" stroke="#858585" stroke-width="1"/>
<line x1="455.44" y1="280.34" x2="455.44" y2="302.23" stroke="#DCC41F" stroke-width="1.4"/>
<line x1="454.64" y1="289.82" x2="456.24" y2="289.82" stroke="#DCC41F" stroke-width="1"/>
<line x1="469.01" y1="270.85" x2="469.01" y2="290.55" stroke="#DCC41F" stroke-width="1.4"/>
<line x1="468.21" y1="280.34" x2="469.81" y2="280.34" stroke="#DCC41F" stroke-width="1"/>
<line x1="482.74" y1="243.11" x2="482.74" y2="283.26" stroke="#DCC41F" stroke-width="1.4"/>
<line x1="481.94" y1="262.82" x2="483.54" y2="262.82" stroke="#DCC41F" stroke-width="1"/>
<line x1="496.46" y1="262.09" x2="496.46" y2="291.28" stroke="#DCC41F" stroke-width="1.4"/>
<line x1="495.66" y1="276.69" x2="497.26" y2="276.69" stroke="#DCC41F" stroke-width="1"/>
<line x1="510.18" y1="248.22" x2="510.18" y2="279.61" stroke="#DCC41F" stroke-width="1.4"/>
<line x1="509.38" y1="265.01" x2="510.98" y2="265.01" stroke="#DCC41F" stroke-width="1"/>
<line x1="523.61" y1="247.49" x2="523.61" y2="270.85" stroke="#DCC41F" stroke-width="1.4"/>
<line x1="522.81" y1="258.44" x2="524.41" y2="258.44" stroke="#DCC41F" stroke-width="1"/>
<path d="M448.58,314.64 C449.72,314.64 453.2,314.72 455.44,314.64 C457.68,314.57 459.74,314.45 462.01,314.2 C464.27,313.96 466.7,313.84 469.01,313.18 C471.33,312.53 473.59,311.36 475.88,310.26 C478.16,309.17 480.43,307.66 482.74,306.61 C485.05,305.57 487.46,304.55 489.74,303.99 C492.03,303.43 493.05,303.38 496.46,303.26 C499.87,303.13 504.49,303.26 510.18,303.26 C515.88,303.26 527.21,303.26 530.62,303.26" fill="none" stroke="#8a8a8a" stroke-width="1.6"/>
<path d="M448.58,290.55 C449.72,290.43 453.2,290.55 455.44,289.82 C457.68,289.09 459.74,287.76 462.01,286.18 C464.27,284.59 466.7,282.77 469.01,280.34 C471.33,277.9 473.59,273.89 475.88,271.58 C478.16,269.27 480.43,267.56 482.74,266.47 C485.05,265.37 487.46,265.25 489.74,265.01 C492.03,264.76 493.05,265.01 496.46,265.01 C499.87,265.01 504.49,265.01 510.18,265.01 C515.88,265.01 527.21,265.01 530.62,265.01" fill="none" stroke="#DCC41F" stroke-width="1.6"/>
<line x1="572.46" y1="313.92" x2="572.46" y2="321.51" stroke="#858585" stroke-width="1.4"/>
<line x1="571.66" y1="318.66" x2="573.26" y2="318.66" stroke="#858585" stroke-width="1"/>
<line x1="585.94" y1="313.92" x2="585.94" y2="321.51" stroke="#858585" stroke-width="1.4"/>
<line x1="585.14" y1="317.71" x2="586.74" y2="317.71" stroke="#858585" stroke-width="1"/>
<line x1="599.6" y1="305.38" x2="599.6" y2="312.02" stroke="#858585" stroke-width="1.4"/>
<line x1="598.8" y1="309.17" x2="600.4" y2="309.17" stroke="#858585" stroke-width="1"/>
<line x1="613.27" y1="315.81" x2="613.27" y2="320.56" stroke="#858585" stroke-width="1.4"/>
<line x1="612.47" y1="317.71" x2="614.07" y2="317.71" stroke="#858585" stroke-width="1"/>
<line x1="626.74" y1="313.92" x2="626.74" y2="319.61" stroke="#858585" stroke-width="1.4"/>
<line x1="625.94" y1="316.19" x2="627.54" y2="316.19" stroke="#858585" stroke-width="1"/>
<line x1="640.41" y1="304.81" x2="640.41" y2="312.02" stroke="#858585" stroke-width="1.4"/>
<line x1="639.61" y1="309.74" x2="641.21" y2="309.74" stroke="#858585" stroke-width="1"/>
<line x1="572.46" y1="300.63" x2="572.46" y2="321.51" stroke="#5AB74A" stroke-width="1.4"/>
<line x1="571.66" y1="311.07" x2="573.26" y2="311.07" stroke="#5AB74A" stroke-width="1"/>
<line x1="585.94" y1="288.86" x2="585.94" y2="310.12" stroke="#5AB74A" stroke-width="1.4"/>
<line x1="585.14" y1="298.73" x2="586.74" y2="298.73" stroke="#5AB74A" stroke-width="1"/>
<line x1="599.6" y1="282.03" x2="599.6" y2="312.02" stroke="#5AB74A" stroke-width="1.4"/>
<line x1="598.8" y1="293.99" x2="600.4" y2="293.99" stroke="#5AB74A" stroke-width="1"/>
<line x1="613.27" y1="284.12" x2="613.27" y2="318.66" stroke="#5AB74A" stroke-width="1.4"/>
<line x1="612.47" y1="298.73" x2="614.07" y2="298.73" stroke="#5AB74A" stroke-width="1"/>
<line x1="626.74" y1="250.91" x2="626.74" y2="283.55" stroke="#5AB74A" stroke-width="1.4"/>
<line x1="625.94" y1="266.47" x2="627.54" y2="266.47" stroke="#5AB74A" stroke-width="1"/>
<line x1="640.41" y1="243.31" x2="640.41" y2="275.39" stroke="#5AB74A" stroke-width="1.4"/>
<line x1="639.61" y1="258.88" x2="641.21" y2="258.88" stroke="#5AB74A" stroke-width="1"/>
<path d="M565.82,316.76 C566.93,316.76 569.11,316.76 572.46,316.76 C575.81,316.76 581.41,316.76 585.94,316.76 C590.46,316.76 595.05,316.83 599.6,316.76 C604.16,316.7 608.74,316.54 613.27,316.38 C617.79,316.22 623.32,316.38 626.74,315.81 C630.16,315.24 631.49,313.92 633.76,312.97 C636.04,312.02 638.1,311.07 640.41,310.12 C642.71,309.17 646.42,307.75 647.62,307.27" fill="none" stroke="#8a8a8a" stroke-width="1.6"/>
<path d="M565.82,302.91 C566.93,302.91 569.11,302.91 572.46,302.91 C575.81,302.91 581.41,302.97 585.94,302.91 C590.46,302.84 596.22,302.91 599.6,302.53 C602.99,302.15 603.97,301.9 606.24,300.63 C608.52,299.37 610.96,297.78 613.27,294.94 C615.57,292.09 617.85,287.66 620.1,283.55 C622.34,279.44 624.46,274.06 626.74,270.26 C629.02,266.47 631.49,262.89 633.76,260.77 C636.04,258.66 638.1,258.18 640.41,257.55 C642.71,256.92 646.42,257.07 647.62,256.98" fill="none" stroke="#5AB74A" stroke-width="1.6"/>
<text x="454" y="359.6">Group averages</text>
<line x1="331.7" y1="365.8" x2="331.7" y2="443.4" stroke="#2e2e2e" stroke-width="1"/>
<line x1="331.7" y1="443.4" x2="412.8" y2="443.4" stroke="#2e2e2e" stroke-width="1"/>
<line x1="337.5" y1="443.4" x2="337.5" y2="441.6" stroke="#2e2e2e" stroke-width="0.9"/>
<line x1="351.5" y1="443.4" x2="351.5" y2="441.6" stroke="#2e2e2e" stroke-width="0.9"/>
<line x1="365" y1="443.4" x2="365" y2="441.6" stroke="#2e2e2e" stroke-width="0.9"/>
<line x1="379" y1="443.4" x2="379" y2="441.6" stroke="#2e2e2e" stroke-width="0.9"/>
<line x1="392.4" y1="443.4" x2="392.4" y2="441.6" stroke="#2e2e2e" stroke-width="0.9"/>
<line x1="406.1" y1="443.4" x2="406.1" y2="441.6" stroke="#2e2e2e" stroke-width="0.9"/>
<line x1="331.7" y1="375.6" x2="333.5" y2="375.6" stroke="#2e2e2e" stroke-width="0.9"/>
<text x="327.7" y="379.2" text-anchor="end">30</text>
<line x1="331.7" y1="433.8" x2="333.5" y2="433.8" stroke="#2e2e2e" stroke-width="0.9"/>
<text x="327.7" y="437.4" text-anchor="end">0</text>
<line x1="331.7" y1="404.7" x2="333.5" y2="404.7" stroke="#2e2e2e" stroke-width="0.9"/>
<text x="337.5" y="455.5" text-anchor="middle">2</text>
<text x="351.5" y="455.5" text-anchor="middle">4</text>
<text x="365" y="455.5" text-anchor="middle">8</text>
<text x="379" y="455.5" text-anchor="middle">16</text>
<text x="392.4" y="455.5" text-anchor="middle">32</text>
<text x="406.1" y="455.5" text-anchor="middle">64</text>
<line x1="448.5" y1="365.8" x2="448.5" y2="443.4" stroke="#2e2e2e" stroke-width="1"/>
<line x1="448.5" y1="443.4" x2="530.4" y2="443.4" stroke="#2e2e2e" stroke-width="1"/>
<line x1="455" y1="443.4" x2="455" y2="441.6" stroke="#2e2e2e" stroke-width="0.9"/>
<line x1="469.1" y1="443.4" x2="469.1" y2="441.6" stroke="#2e2e2e" stroke-width="0.9"/>
<line x1="482.8" y1="443.4" x2="482.8" y2="441.6" stroke="#2e2e2e" stroke-width="0.9"/>
<line x1="496.3" y1="443.4" x2="496.3" y2="441.6" stroke="#2e2e2e" stroke-width="0.9"/>
<line x1="510.4" y1="443.4" x2="510.4" y2="441.6" stroke="#2e2e2e" stroke-width="0.9"/>
<line x1="524.1" y1="443.4" x2="524.1" y2="441.6" stroke="#2e2e2e" stroke-width="0.9"/>
<line x1="448.5" y1="375.6" x2="450.3" y2="375.6" stroke="#2e2e2e" stroke-width="0.9"/>
<text x="444.5" y="379.2" text-anchor="end">30</text>
<line x1="448.5" y1="433.8" x2="450.3" y2="433.8" stroke="#2e2e2e" stroke-width="0.9"/>
<text x="444.5" y="437.4" text-anchor="end">0</text>
<line x1="448.5" y1="404.7" x2="450.3" y2="404.7" stroke="#2e2e2e" stroke-width="0.9"/>
<text x="455" y="455.5" text-anchor="middle">2</text>
<text x="469.1" y="455.5" text-anchor="middle">4</text>
<text x="482.8" y="455.5" text-anchor="middle">8</text>
<text x="496.3" y="455.5" text-anchor="middle">16</text>
<text x="510.4" y="455.5" text-anchor="middle">32</text>
<text x="524.1" y="455.5" text-anchor="middle">64</text>
<line x1="565.7" y1="365.8" x2="565.7" y2="443.4" stroke="#2e2e2e" stroke-width="1"/>
<line x1="565.7" y1="443.4" x2="647.4" y2="443.4" stroke="#2e2e2e" stroke-width="1"/>
<line x1="571.7" y1="443.4" x2="571.7" y2="441.6" stroke="#2e2e2e" stroke-width="0.9"/>
<line x1="585.9" y1="443.4" x2="585.9" y2="441.6" stroke="#2e2e2e" stroke-width="0.9"/>
<line x1="599.6" y1="443.4" x2="599.6" y2="441.6" stroke="#2e2e2e" stroke-width="0.9"/>
<line x1="613.5" y1="443.4" x2="613.5" y2="441.6" stroke="#2e2e2e" stroke-width="0.9"/>
<line x1="627.2" y1="443.4" x2="627.2" y2="441.6" stroke="#2e2e2e" stroke-width="0.9"/>
<line x1="640.9" y1="443.4" x2="640.9" y2="441.6" stroke="#2e2e2e" stroke-width="0.9"/>
<line x1="565.7" y1="375.6" x2="567.5" y2="375.6" stroke="#2e2e2e" stroke-width="0.9"/>
<text x="561.7" y="379.2" text-anchor="end">30</text>
<line x1="565.7" y1="433.8" x2="567.5" y2="433.8" stroke="#2e2e2e" stroke-width="0.9"/>
<text x="561.7" y="437.4" text-anchor="end">0</text>
<line x1="565.7" y1="404.7" x2="567.5" y2="404.7" stroke="#2e2e2e" stroke-width="0.9"/>
<text x="571.7" y="455.5" text-anchor="middle">2</text>
<text x="585.9" y="455.5" text-anchor="middle">4</text>
<text x="599.6" y="455.5" text-anchor="middle">8</text>
<text x="613.5" y="455.5" text-anchor="middle">16</text>
<text x="627.2" y="455.5" text-anchor="middle">32</text>
<text x="640.9" y="455.5" text-anchor="middle">64</text>
<text x="307.8" y="404.5" text-anchor="middle" transform="rotate(-90 307.8 404.5)">Δ<tspan font-style="italic">F</tspan>/<tspan font-style="italic">F</tspan> (%)</text>
<text x="489.6" y="469.3" text-anchor="middle">Contrast (%)</text>
<text x="334.6" y="380.3" fill="#55c5cc">21%</text>
<text x="452.2" y="380.1" fill="#dcc93f">28%</text>
<text x="569.4" y="380.6" fill="#64bb56">28%</text>
<polyline points="337.5,424.89 351.5,412.63 365,405.33 379,399.49 392.4,388.39 406.1,373.8" fill="none" stroke="#8a8a8a" stroke-width="1.3"/>
<line x1="337.5" y1="422.39" x2="337.5" y2="427.39" stroke="#8a8a8a" stroke-width="1"/>
<line x1="336.3" y1="424.89" x2="338.7" y2="424.89" stroke="#8a8a8a" stroke-width="0.8"/>
<line x1="351.5" y1="409.13" x2="351.5" y2="416.13" stroke="#8a8a8a" stroke-width="1"/>
<line x1="350.3" y1="412.63" x2="352.7" y2="412.63" stroke="#8a8a8a" stroke-width="0.8"/>
<line x1="365" y1="401.33" x2="365" y2="409.33" stroke="#8a8a8a" stroke-width="1"/>
<line x1="363.8" y1="405.33" x2="366.2" y2="405.33" stroke="#8a8a8a" stroke-width="0.8"/>
<line x1="379" y1="395.49" x2="379" y2="403.49" stroke="#8a8a8a" stroke-width="1"/>
<line x1="377.8" y1="399.49" x2="380.2" y2="399.49" stroke="#8a8a8a" stroke-width="0.8"/>
<line x1="392.4" y1="385.39" x2="392.4" y2="391.39" stroke="#8a8a8a" stroke-width="1"/>
<line x1="391.2" y1="388.39" x2="393.6" y2="388.39" stroke="#8a8a8a" stroke-width="0.8"/>
<line x1="406.1" y1="370.8" x2="406.1" y2="376.8" stroke="#8a8a8a" stroke-width="1"/>
<line x1="404.9" y1="373.8" x2="407.3" y2="373.8" stroke="#8a8a8a" stroke-width="0.8"/>
<polyline points="337.5,423.43 351.5,422.55 365,410.29 379,400.95 392.4,388.39 406.1,372.34" fill="none" stroke="#3BBFC7" stroke-width="1.3"/>
<line x1="337.5" y1="420.83" x2="337.5" y2="426.03" stroke="#3BBFC7" stroke-width="1"/>
<line x1="336.3" y1="423.43" x2="338.7" y2="423.43" stroke="#3BBFC7" stroke-width="0.8"/>
<line x1="351.5" y1="420.35" x2="351.5" y2="424.75" stroke="#3BBFC7" stroke-width="1"/>
<line x1="350.3" y1="422.55" x2="352.7" y2="422.55" stroke="#3BBFC7" stroke-width="0.8"/>
<line x1="365" y1="406.29" x2="365" y2="414.29" stroke="#3BBFC7" stroke-width="1"/>
<line x1="363.8" y1="410.29" x2="366.2" y2="410.29" stroke="#3BBFC7" stroke-width="0.8"/>
<line x1="379" y1="396.95" x2="379" y2="404.95" stroke="#3BBFC7" stroke-width="1"/>
<line x1="377.8" y1="400.95" x2="380.2" y2="400.95" stroke="#3BBFC7" stroke-width="0.8"/>
<line x1="392.4" y1="383.39" x2="392.4" y2="393.39" stroke="#3BBFC7" stroke-width="1"/>
<line x1="391.2" y1="388.39" x2="393.6" y2="388.39" stroke="#3BBFC7" stroke-width="0.8"/>
<line x1="406.1" y1="365.84" x2="406.1" y2="378.84" stroke="#3BBFC7" stroke-width="1"/>
<line x1="404.9" y1="372.34" x2="407.3" y2="372.34" stroke="#3BBFC7" stroke-width="0.8"/>
<polyline points="455,435 469.1,433.91 482.8,433.04 496.3,433.04 510.4,435.65 524.1,428.48" fill="none" stroke="#8a8a8a" stroke-width="1.2"/>
<line x1="455" y1="434.2" x2="455" y2="435.8" stroke="#8a8a8a" stroke-width="1"/>
<line x1="453.8" y1="435" x2="456.2" y2="435" stroke="#8a8a8a" stroke-width="0.8"/>
<line x1="469.1" y1="433.11" x2="469.1" y2="434.71" stroke="#8a8a8a" stroke-width="1"/>
<line x1="467.9" y1="433.91" x2="470.3" y2="433.91" stroke="#8a8a8a" stroke-width="0.8"/>
<line x1="482.8" y1="432.24" x2="482.8" y2="433.84" stroke="#8a8a8a" stroke-width="1"/>
<line x1="481.6" y1="433.04" x2="484" y2="433.04" stroke="#8a8a8a" stroke-width="0.8"/>
<line x1="496.3" y1="432.24" x2="496.3" y2="433.84" stroke="#8a8a8a" stroke-width="1"/>
<line x1="495.1" y1="433.04" x2="497.5" y2="433.04" stroke="#8a8a8a" stroke-width="0.8"/>
<line x1="510.4" y1="434.85" x2="510.4" y2="436.45" stroke="#8a8a8a" stroke-width="1"/>
<line x1="509.2" y1="435.65" x2="511.6" y2="435.65" stroke="#8a8a8a" stroke-width="0.8"/>
<line x1="524.1" y1="427.48" x2="524.1" y2="429.48" stroke="#8a8a8a" stroke-width="1"/>
<line x1="522.9" y1="428.48" x2="525.3" y2="428.48" stroke="#8a8a8a" stroke-width="0.8"/>
<polyline points="455,418.7 469.1,416.74 482.8,416.74 496.3,415 510.4,410.65 524.1,407.39" fill="none" stroke="#DCC41F" stroke-width="1.3"/>
<line x1="455" y1="417.3" x2="455" y2="420.1" stroke="#DCC41F" stroke-width="1"/>
<line x1="453.8" y1="418.7" x2="456.2" y2="418.7" stroke="#DCC41F" stroke-width="0.8"/>
<line x1="469.1" y1="415.34" x2="469.1" y2="418.14" stroke="#DCC41F" stroke-width="1"/>
<line x1="467.9" y1="416.74" x2="470.3" y2="416.74" stroke="#DCC41F" stroke-width="0.8"/>
<line x1="482.8" y1="415.14" x2="482.8" y2="418.34" stroke="#DCC41F" stroke-width="1"/>
<line x1="481.6" y1="416.74" x2="484" y2="416.74" stroke="#DCC41F" stroke-width="0.8"/>
<line x1="496.3" y1="413.6" x2="496.3" y2="416.4" stroke="#DCC41F" stroke-width="1"/>
<line x1="495.1" y1="415" x2="497.5" y2="415" stroke="#DCC41F" stroke-width="0.8"/>
<line x1="510.4" y1="409.05" x2="510.4" y2="412.25" stroke="#DCC41F" stroke-width="1"/>
<line x1="509.2" y1="410.65" x2="511.6" y2="410.65" stroke="#DCC41F" stroke-width="0.8"/>
<line x1="524.1" y1="405.39" x2="524.1" y2="409.39" stroke="#DCC41F" stroke-width="1"/>
<line x1="522.9" y1="407.39" x2="525.3" y2="407.39" stroke="#DCC41F" stroke-width="0.8"/>
<polyline points="571.7,434.13 585.9,432.39 599.6,429.57 613.5,429.13 627.2,429.78 640.9,421.96" fill="none" stroke="#8a8a8a" stroke-width="1.2"/>
<line x1="571.7" y1="433.33" x2="571.7" y2="434.93" stroke="#8a8a8a" stroke-width="1"/>
<line x1="570.5" y1="434.13" x2="572.9" y2="434.13" stroke="#8a8a8a" stroke-width="0.8"/>
<line x1="585.9" y1="431.59" x2="585.9" y2="433.19" stroke="#8a8a8a" stroke-width="1"/>
<line x1="584.7" y1="432.39" x2="587.1" y2="432.39" stroke="#8a8a8a" stroke-width="0.8"/>
<line x1="599.6" y1="428.57" x2="599.6" y2="430.57" stroke="#8a8a8a" stroke-width="1"/>
<line x1="598.4" y1="429.57" x2="600.8" y2="429.57" stroke="#8a8a8a" stroke-width="0.8"/>
<line x1="613.5" y1="428.13" x2="613.5" y2="430.13" stroke="#8a8a8a" stroke-width="1"/>
<line x1="612.3" y1="429.13" x2="614.7" y2="429.13" stroke="#8a8a8a" stroke-width="0.8"/>
<line x1="627.2" y1="428.78" x2="627.2" y2="430.78" stroke="#8a8a8a" stroke-width="1"/>
<line x1="626" y1="429.78" x2="628.4" y2="429.78" stroke="#8a8a8a" stroke-width="0.8"/>
<line x1="640.9" y1="420.36" x2="640.9" y2="423.56" stroke="#8a8a8a" stroke-width="1"/>
<line x1="639.7" y1="421.96" x2="642.1" y2="421.96" stroke="#8a8a8a" stroke-width="0.8"/>
<polyline points="571.7,425.22 585.9,421.96 599.6,415.65 613.5,413.26 627.2,403.04 640.9,396.96" fill="none" stroke="#5AB74A" stroke-width="1.3"/>
<line x1="571.7" y1="423.82" x2="571.7" y2="426.62" stroke="#5AB74A" stroke-width="1"/>
<line x1="570.5" y1="425.22" x2="572.9" y2="425.22" stroke="#5AB74A" stroke-width="0.8"/>
<line x1="585.9" y1="420.56" x2="585.9" y2="423.36" stroke="#5AB74A" stroke-width="1"/>
<line x1="584.7" y1="421.96" x2="587.1" y2="421.96" stroke="#5AB74A" stroke-width="0.8"/>
<line x1="599.6" y1="413.85" x2="599.6" y2="417.45" stroke="#5AB74A" stroke-width="1"/>
<line x1="598.4" y1="415.65" x2="600.8" y2="415.65" stroke="#5AB74A" stroke-width="0.8"/>
<line x1="613.5" y1="411.46" x2="613.5" y2="415.06" stroke="#5AB74A" stroke-width="1"/>
<line x1="612.3" y1="413.26" x2="614.7" y2="413.26" stroke="#5AB74A" stroke-width="0.8"/>
<line x1="627.2" y1="400.74" x2="627.2" y2="405.34" stroke="#5AB74A" stroke-width="1"/>
<line x1="626" y1="403.04" x2="628.4" y2="403.04" stroke="#5AB74A" stroke-width="0.8"/>
<line x1="640.9" y1="393.96" x2="640.9" y2="399.96" stroke="#5AB74A" stroke-width="1"/>
<line x1="639.7" y1="396.96" x2="642.1" y2="396.96" stroke="#5AB74A" stroke-width="0.8"/>
<text x="67.2" y="501.6">Anatomical location: example PPC fields</text>
<defs><radialGradient id="brl" gradientUnits="userSpaceOnUse" cx="9" cy="574" r="48"><stop offset="0" stop-color="#f3e9df"/><stop offset="0.6" stop-color="#e2cfbd"/><stop offset="1" stop-color="#c8a88d"/></radialGradient><radialGradient id="brt" gradientUnits="userSpaceOnUse" cx="20" cy="530" r="58"><stop offset="0" stop-color="#d2b59b"/><stop offset="0.55" stop-color="#bf9c7d"/><stop offset="1" stop-color="#a88262"/></radialGradient></defs>
<polygon points="0,510.13 56.38,510.13 61.51,516.96 65.78,525.5 68.34,535.75 69.2,547.71 69.2,559.67 68.34,569.92 65.78,580.18 61.51,588.72 58.94,592.13 57.24,595.55 56.38,600.68 54.67,604.61 0,604.61" fill="url(#brt)"/>
<polygon points="0,585.3 7.69,584.45 15.38,590.43 27.34,592.99 44.42,593.84 58.09,592.13 57.24,595.55 56.38,600.68 54.67,604.61 0,604.61" fill="#9f7a5b"/>
<polygon points="0,510.13 3.42,511.83 2.56,523.79 3.42,539.17 3.08,556.26 4.27,576.76 7.69,584.45 0,585.3" fill="#a88566"/>
<polygon points="3.42,539.17 14.52,544.64 17.09,551.98 34.17,553.18 47.84,550.28 51.26,561.38 52.11,573.34 51.26,583.59 46.13,593.84 27.34,592.99 15.38,590.43 7.69,584.45 4.27,576.76 3.08,556.26" fill="url(#brl)"/>
<polygon points="47.84,550.28 56.38,548.57 67.49,545.15 69.2,547.71 69.2,559.67 68.34,569.92 65.78,580.18 61.51,588.72 58.94,592.13 46.13,593.84 51.26,583.59 52.11,573.34 51.26,561.38" fill="#be9a7b"/>
<polyline points="1.71,510.98 3.42,516.96 2.56,523.79 2.9,532.34 3.42,539.17 3.08,556.26 4.27,576.76 7.69,584.45 15.38,590.43 27.34,592.99 44.42,593.84 58.09,592.13" fill="none" stroke="#2a1d12" stroke-width="1.1" stroke-linejoin="round"/>
<polyline points="30.75,510.13 27.34,515.25 23.58,520.04 19.65,530.63 18.96,535.24 21.36,541.56" fill="none" stroke="#2a1d12" stroke-width="1.1" stroke-linejoin="round"/>
<polyline points="56.38,510.13 61.51,516.96 65.78,525.5 68.34,535.75 69.2,547.71 69.2,559.67 68.34,569.92 65.78,580.18 61.51,588.72 58.94,592.13 57.24,595.55 56.38,600.68 54.67,604.61" fill="none" stroke="#2a1d12" stroke-width="1.1" stroke-linejoin="round"/>
<polyline points="3.42,539.17 9.4,541.73 14.52,544.64" fill="none" stroke="#2a1d12" stroke-width="1.1" stroke-linejoin="round"/>
<polyline points="33.32,553.18 29.04,559.67 23.07,567.36 17.94,575.05 15.04,581.88 14.52,590.43" fill="none" stroke="#2a1d12" stroke-width="1.1" stroke-linejoin="round"/>
<polyline points="47.84,550.28 51.26,561.38 52.11,573.34 51.26,583.59 46.13,593.84" fill="none" stroke="#2a1d12" stroke-width="1.1" stroke-linejoin="round"/>
<polyline points="47.84,550.28 56.38,548.57 64.92,546 67.49,539.17 68.34,535.75" fill="none" stroke="#2a1d12" stroke-width="1.1" stroke-linejoin="round"/>
<polyline points="54.67,550.28 58.94,556.26 59.8,566.51 64.92,567.36 68.68,566.51" fill="none" stroke="#2a1d12" stroke-width="1.1" stroke-linejoin="round"/>
<polyline points="51.26,578.47 58.94,581.03 65.78,580.18" fill="none" stroke="#2a1d12" stroke-width="1.1" stroke-linejoin="round"/>
<polyline points="0,532.34 2.9,532.34" fill="none" stroke="#2a1d12" stroke-width="1.1" stroke-linejoin="round"/>
<polyline points="17.09,551.98 18.79,561.38 20.5,568.22" fill="none" stroke="#2a1d12" stroke-width="1.1" stroke-linejoin="round"/>
<polygon points="14.52,545.15 25.63,542.93 35.88,542.93 41,546 47.84,549.76 46.13,551.98 34.17,553.18 17.09,551.98 14.52,549.76" fill="#d4bba4" stroke="#3b7db6" stroke-width="1.4" stroke-linejoin="round"/>
<rect x="26.6" y="543.5" width="8.9" height="8.6" fill="none" stroke="#111" stroke-width="1.5"/>
<text x="13.8" y="538.5" font-size="9.3" fill="#3b7db6">PPC</text>
<text x="27.8" y="588.4" font-size="9.5">V1</text>
<line x1="36" y1="541.5" x2="76.5" y2="510.5" stroke="#111" stroke-width="1.4" stroke-dasharray="2.8,2.2"/>
<line x1="36" y1="553.2" x2="76.5" y2="620.5" stroke="#111" stroke-width="1.4" stroke-dasharray="2.8,2.2"/>
<line x1="4.2" y1="611.8" x2="19.6" y2="611.8" stroke="#111" stroke-width="1.8"/>
<text x="2" y="621.5" font-size="8.5">1 mm</text>
<rect x="77.7" y="509.7" width="112.6" height="112.4" fill="#fff" stroke="#111" stroke-width="1.8"/>
<rect x="198.7" y="509.6" width="112.2" height="112.5" fill="#fff" stroke="#111" stroke-width="1.8"/>
<circle cx="131.16" cy="520.39" r="2.3" fill="#8A8A8A"/>
<circle cx="161.44" cy="516.75" r="2.3" fill="#8A8A8A"/>
<circle cx="183.04" cy="513.12" r="2.3" fill="#8A8A8A"/>
<circle cx="174.97" cy="525.23" r="2.3" fill="#8A8A8A"/>
<circle cx="165.28" cy="569.24" r="2.3" fill="#8A8A8A"/>
<circle cx="163.86" cy="573.68" r="2.3" fill="#8A8A8A"/>
<circle cx="108.96" cy="572.26" r="2.3" fill="#8A8A8A"/>
<circle cx="116.43" cy="572.26" r="2.3" fill="#8A8A8A"/>
<circle cx="98.87" cy="577.11" r="2.3" fill="#8A8A8A"/>
<circle cx="88.17" cy="583.17" r="2.3" fill="#8A8A8A"/>
<circle cx="124.1" cy="579.73" r="2.3" fill="#8A8A8A"/>
<circle cx="133.58" cy="577.11" r="2.3" fill="#8A8A8A"/>
<circle cx="108.96" cy="590.23" r="2.3" fill="#8A8A8A"/>
<circle cx="120.87" cy="591.84" r="2.3" fill="#8A8A8A"/>
<circle cx="139.24" cy="590.84" r="2.3" fill="#8A8A8A"/>
<circle cx="167.9" cy="587.2" r="2.3" fill="#8A8A8A"/>
<circle cx="104.72" cy="600.12" r="2.3" fill="#8A8A8A"/>
<circle cx="119.05" cy="606.98" r="2.3" fill="#8A8A8A"/>
<circle cx="110.98" cy="614.65" r="2.3" fill="#8A8A8A"/>
<circle cx="114" cy="518.77" r="2.3" fill="#DCC41F"/>
<circle cx="103.71" cy="529.67" r="2.3" fill="#DCC41F"/>
<circle cx="128.54" cy="525.84" r="2.3" fill="#DCC41F"/>
<circle cx="142.67" cy="526.24" r="2.3" fill="#DCC41F"/>
<circle cx="175.57" cy="513.32" r="2.3" fill="#DCC41F"/>
<circle cx="161.24" cy="525.64" r="2.3" fill="#DCC41F"/>
<circle cx="161.24" cy="532.3" r="2.3" fill="#DCC41F"/>
<circle cx="166.89" cy="532.7" r="2.3" fill="#DCC41F"/>
<circle cx="146.3" cy="538.35" r="2.3" fill="#DCC41F"/>
<circle cx="176.58" cy="543.8" r="2.3" fill="#DCC41F"/>
<circle cx="135" cy="546.83" r="2.3" fill="#DCC41F"/>
<circle cx="140.65" cy="549.45" r="2.3" fill="#DCC41F"/>
<circle cx="163.86" cy="547.23" r="2.3" fill="#DCC41F"/>
<circle cx="161.84" cy="556.92" r="2.3" fill="#DCC41F"/>
<circle cx="161.44" cy="560.15" r="2.3" fill="#DCC41F"/>
<circle cx="87.16" cy="557.93" r="2.3" fill="#DCC41F"/>
<circle cx="78.68" cy="559.55" r="2.3" fill="#DCC41F"/>
<circle cx="171.94" cy="571.86" r="2.3" fill="#DCC41F"/>
<circle cx="135.2" cy="575.9" r="2.3" fill="#DCC41F"/>
<circle cx="108.96" cy="584.78" r="2.3" fill="#DCC41F"/>
<circle cx="149.94" cy="581.55" r="2.3" fill="#DCC41F"/>
<circle cx="150.74" cy="588.21" r="2.3" fill="#DCC41F"/>
<circle cx="99.87" cy="589.22" r="2.3" fill="#DCC41F"/>
<circle cx="137.22" cy="589.22" r="2.3" fill="#DCC41F"/>
<circle cx="139.64" cy="594.27" r="2.3" fill="#DCC41F"/>
<circle cx="140.65" cy="606.98" r="2.3" fill="#DCC41F"/>
<circle cx="83.73" cy="610.62" r="2.3" fill="#DCC41F"/>
<circle cx="131.57" cy="526.65" r="2.3" fill="#3BBFC7"/>
<circle cx="137.22" cy="528.66" r="2.3" fill="#3BBFC7"/>
<circle cx="132.58" cy="537.95" r="2.3" fill="#3BBFC7"/>
<circle cx="139.84" cy="539.36" r="2.3" fill="#3BBFC7"/>
<circle cx="167.9" cy="555.11" r="2.3" fill="#3BBFC7"/>
<circle cx="124.1" cy="556.92" r="2.3" fill="#3BBFC7"/>
<circle cx="96.85" cy="567.82" r="2.3" fill="#3BBFC7"/>
<circle cx="136.61" cy="567.82" r="2.3" fill="#3BBFC7"/>
<circle cx="160.84" cy="568.03" r="2.3" fill="#3BBFC7"/>
<circle cx="162.25" cy="586.19" r="2.3" fill="#3BBFC7"/>
<circle cx="172.34" cy="592.85" r="2.3" fill="#3BBFC7"/>
<circle cx="132.58" cy="599.52" r="2.3" fill="#3BBFC7"/>
<circle cx="136.21" cy="598.91" r="2.3" fill="#3BBFC7"/>
<circle cx="143.68" cy="599.72" r="2.3" fill="#3BBFC7"/>
<circle cx="139.04" cy="603.96" r="2.3" fill="#3BBFC7"/>
<circle cx="95.23" cy="528.66" r="2.3" fill="#5AB74A"/>
<circle cx="117.03" cy="531.69" r="2.3" fill="#5AB74A"/>
<circle cx="154.78" cy="516.75" r="2.3" fill="#5AB74A"/>
<circle cx="174.97" cy="530.88" r="2.3" fill="#5AB74A"/>
<circle cx="146.1" cy="533.91" r="2.3" fill="#5AB74A"/>
<circle cx="161.84" cy="538.35" r="2.3" fill="#5AB74A"/>
<circle cx="182.64" cy="540.78" r="2.3" fill="#5AB74A"/>
<circle cx="144.28" cy="549.05" r="2.3" fill="#5AB74A"/>
<circle cx="145.09" cy="552.08" r="2.3" fill="#5AB74A"/>
<circle cx="159.83" cy="552.89" r="2.3" fill="#5AB74A"/>
<circle cx="180.62" cy="554.91" r="2.3" fill="#5AB74A"/>
<circle cx="177.39" cy="558.13" r="2.3" fill="#5AB74A"/>
<circle cx="173.35" cy="562.17" r="2.3" fill="#5AB74A"/>
<circle cx="128.54" cy="577.11" r="2.3" fill="#5AB74A"/>
<circle cx="126.12" cy="579.73" r="2.3" fill="#5AB74A"/>
<circle cx="125.11" cy="583.77" r="2.3" fill="#5AB74A"/>
<circle cx="138.63" cy="600.32" r="2.3" fill="#5AB74A"/>
<circle cx="294.04" cy="539.8" r="2.3" fill="#8A8A8A"/>
<circle cx="253.03" cy="545.45" r="2.3" fill="#8A8A8A"/>
<circle cx="244.14" cy="566.26" r="2.3" fill="#8A8A8A"/>
<circle cx="272.83" cy="568.08" r="2.3" fill="#8A8A8A"/>
<circle cx="286.97" cy="583.84" r="2.3" fill="#8A8A8A"/>
<circle cx="258.08" cy="534.75" r="2.3" fill="#DCC41F"/>
<circle cx="271.82" cy="550.1" r="2.3" fill="#DCC41F"/>
<circle cx="258.08" cy="575.15" r="2.3" fill="#DCC41F"/>
<circle cx="256.67" cy="584.44" r="2.3" fill="#DCC41F"/>
<circle cx="242.12" cy="528.28" r="2.3" fill="#5AB74A"/>
<circle cx="241.52" cy="534.34" r="2.3" fill="#5AB74A"/>
<circle cx="266.77" cy="532.73" r="2.3" fill="#5AB74A"/>
<circle cx="298.48" cy="537.78" r="2.3" fill="#5AB74A"/>
<circle cx="284.34" cy="561.62" r="2.3" fill="#5AB74A"/>
<circle cx="200.51" cy="583.84" r="2.3" fill="#5AB74A"/>
<circle cx="211.21" cy="587.88" r="2.3" fill="#5AB74A"/>
<circle cx="277.27" cy="581.62" r="2.3" fill="#5AB74A"/>
<circle cx="244.95" cy="595.35" r="2.3" fill="#5AB74A"/>
<circle cx="244.14" cy="535.96" r="2.3" fill="#3BBFC7"/>
<circle cx="271.41" cy="528.28" r="2.3" fill="#3BBFC7"/>
<circle cx="275.25" cy="535.96" r="2.3" fill="#3BBFC7"/>
<circle cx="292.02" cy="532.93" r="2.3" fill="#3BBFC7"/>
<circle cx="262.73" cy="564.65" r="2.3" fill="#3BBFC7"/>
<circle cx="277.07" cy="586.87" r="2.3" fill="#3BBFC7"/>
<circle cx="266.16" cy="594.34" r="2.3" fill="#3BBFC7"/>
<circle cx="274.04" cy="609.09" r="2.3" fill="#3BBFC7"/>
<circle cx="267.98" cy="612.53" r="2.3" fill="#3BBFC7"/>
<line x1="156.4" y1="617.1" x2="185.7" y2="617.1" stroke="#111" stroke-width="1.2"/>
<text x="157" y="613" font-size="8.5">100 µm</text>
<line x1="277.3" y1="617.1" x2="306.6" y2="617.1" stroke="#111" stroke-width="1.2"/>
<text x="277.9" y="613" font-size="8.5">100 µm</text>
<line x1="377.1" y1="498.3" x2="377.1" y2="615" stroke="#2e2e2e" stroke-width="1"/>
<line x1="377.1" y1="615" x2="493.8" y2="615" stroke="#2e2e2e" stroke-width="1"/>
<line x1="377.1" y1="615" x2="378.9" y2="615" stroke="#2e2e2e" stroke-width="0.9"/>
<text x="372.8" y="618.6" text-anchor="end">0</text>
<line x1="377.1" y1="615" x2="377.1" y2="613.2" stroke="#2e2e2e" stroke-width="0.9"/>
<text x="377.1" y="627.8" text-anchor="middle">0</text>
<line x1="377.1" y1="576.1" x2="378.9" y2="576.1" stroke="#2e2e2e" stroke-width="0.9"/>
<text x="372.8" y="579.7" text-anchor="end">200</text>
<line x1="416" y1="615" x2="416" y2="613.2" stroke="#2e2e2e" stroke-width="0.9"/>
<text x="416" y="627.8" text-anchor="middle">200</text>
<line x1="377.1" y1="537.2" x2="378.9" y2="537.2" stroke="#2e2e2e" stroke-width="0.9"/>
<text x="372.8" y="540.8" text-anchor="end">400</text>
<line x1="454.9" y1="615" x2="454.9" y2="613.2" stroke="#2e2e2e" stroke-width="0.9"/>
<text x="454.9" y="627.8" text-anchor="middle">400</text>
<line x1="377.1" y1="498.3" x2="378.9" y2="498.3" stroke="#2e2e2e" stroke-width="0.9"/>
<text x="372.8" y="501.9" text-anchor="end">600</text>
<line x1="493.8" y1="615" x2="493.8" y2="613.2" stroke="#2e2e2e" stroke-width="0.9"/>
<text x="493.8" y="627.8" text-anchor="middle">600</text>
<text x="434.8" y="640" text-anchor="middle">Within-group distance (µm)</text>
<text x="336.8" y="556.4" text-anchor="middle" transform="rotate(-90 336.8 556.4)">Across-group distance</text>
<text x="348.6" y="556.4" text-anchor="middle" transform="rotate(-90 348.6 556.4)">(µm)</text>
<circle cx="424.98" cy="573.93" r="2.2" fill="#3BBFC7"/>
<circle cx="422.16" cy="575.63" r="2.2" fill="#3BBFC7"/>
<circle cx="435.16" cy="550.94" r="2.2" fill="#DCC41F"/>
<circle cx="436.14" cy="566.95" r="2.2" fill="#5AB74A"/>
<circle cx="478.61" cy="520.36" r="2.2" fill="#DCC41F"/>
<circle cx="476.75" cy="530.61" r="2.2" fill="#5AB74A"/>
<circle cx="446.69" cy="552.34" r="2.2" fill="#3BBFC7"/>
<circle cx="418.24" cy="569.55" r="2.2" fill="#5AB74A"/>
<circle cx="400.36" cy="583.71" r="2.2" fill="#5AB74A"/>
<circle cx="418.56" cy="566.18" r="2.2" fill="#DCC41F"/>
<circle cx="466.62" cy="517.93" r="2.2" fill="#5AB74A"/>
<circle cx="426.07" cy="566.68" r="2.2" fill="#3BBFC7"/>
<circle cx="471.16" cy="522.22" r="2.2" fill="#3BBFC7"/>
<circle cx="452.92" cy="541.94" r="2.2" fill="#5AB74A"/>
<circle cx="452.53" cy="559.49" r="2.2" fill="#3BBFC7"/>
<circle cx="406.43" cy="585.36" r="2.2" fill="#3BBFC7"/>
<circle cx="452.53" cy="525.95" r="2.2" fill="#3BBFC7"/>
<circle cx="440.6" cy="548.74" r="2.2" fill="#5AB74A"/>
<circle cx="459.98" cy="539.92" r="2.2" fill="#5AB74A"/>
<circle cx="391.97" cy="579.98" r="2.2" fill="#3BBFC7"/>
<circle cx="413.02" cy="582.16" r="2.2" fill="#DCC41F"/>
<circle cx="434.17" cy="552.84" r="2.2" fill="#5AB74A"/>
<circle cx="407.52" cy="591.32" r="2.2" fill="#5AB74A"/>
<circle cx="472.09" cy="535.26" r="2.2" fill="#5AB74A"/>
<circle cx="421.86" cy="566.28" r="2.2" fill="#3BBFC7"/>
<circle cx="467.18" cy="533.41" r="2.2" fill="#5AB74A"/>
<circle cx="415.92" cy="574.7" r="2.2" fill="#DCC41F"/>
<circle cx="417.84" cy="569.5" r="2.2" fill="#DCC41F"/>
<circle cx="468.63" cy="530.92" r="2.2" fill="#DCC41F"/>
<circle cx="463.59" cy="530.4" r="2.2" fill="#5AB74A"/>
<circle cx="456.35" cy="524.98" r="2.2" fill="#DCC41F"/>
<circle cx="445.88" cy="555.11" r="2.2" fill="#5AB74A"/>
<circle cx="419.82" cy="560.29" r="2.2" fill="#5AB74A"/>
<circle cx="407.69" cy="589.83" r="2.2" fill="#5AB74A"/>
<circle cx="438.53" cy="557" r="2.2" fill="#5AB74A"/>
<circle cx="394.77" cy="594.89" r="2.2" fill="#DCC41F"/>
<circle cx="420.29" cy="582.28" r="2.2" fill="#3BBFC7"/>
<circle cx="420.55" cy="557.34" r="2.2" fill="#5AB74A"/>
<circle cx="429.83" cy="574.11" r="2.2" fill="#5AB74A"/>
<circle cx="440" cy="542.1" r="2.2" fill="#5AB74A"/>
<circle cx="406.21" cy="588.87" r="2.2" fill="#3BBFC7"/>
<circle cx="456.7" cy="525.44" r="2.2" fill="#DCC41F"/>
<circle cx="470.81" cy="520.95" r="2.2" fill="#5AB74A"/>
<circle cx="434.25" cy="543.52" r="2.2" fill="#5AB74A"/>
<circle cx="451.19" cy="529.73" r="2.2" fill="#5AB74A"/>
<circle cx="456.32" cy="537.89" r="2.2" fill="#5AB74A"/>
<circle cx="446.16" cy="536.46" r="2.2" fill="#3BBFC7"/>
<circle cx="438.87" cy="552.71" r="2.2" fill="#DCC41F"/>
<circle cx="441.51" cy="539.62" r="2.2" fill="#DCC41F"/>
<circle cx="430.92" cy="553.33" r="2.2" fill="#3BBFC7"/>
<circle cx="449.98" cy="531.85" r="2.2" fill="#5AB74A"/>
<circle cx="457.11" cy="534.52" r="2.2" fill="#3BBFC7"/>
<circle cx="427.61" cy="567.38" r="2.2" fill="#5AB74A"/>
<circle cx="438.2" cy="550.96" r="2.2" fill="#DCC41F"/>
<circle cx="435.23" cy="541.36" r="2.2" fill="#5AB74A"/>
<circle cx="426.53" cy="573.93" r="2.2" fill="#5AB74A"/>
<circle cx="438.34" cy="553.36" r="2.2" fill="#5AB74A"/>
<circle cx="471.98" cy="526.43" r="2.2" fill="#5AB74A"/>
<circle cx="420.16" cy="567.59" r="2.2" fill="#3BBFC7"/>
<circle cx="459.05" cy="544.58" r="2.2" fill="#DCC41F"/>
<circle cx="463.5" cy="529.4" r="2.2" fill="#5AB74A"/>
<circle cx="455.94" cy="539.79" r="2.2" fill="#3BBFC7"/>
<circle cx="389.18" cy="597.68" r="2.2" fill="#5AB74A"/>
<circle cx="461.85" cy="562.28" r="2.2" fill="#3BBFC7"/>
<circle cx="427.27" cy="550.26" r="2.2" fill="#DCC41F"/>
<circle cx="393.66" cy="593.55" r="2.2" fill="#DCC41F"/>
<circle cx="479.55" cy="504.52" r="2.2" fill="#3BBFC7"/>
<circle cx="428.36" cy="577.1" r="2.2" fill="#DCC41F"/>
<circle cx="469.75" cy="519.22" r="2.2" fill="#DCC41F"/>
<circle cx="423.85" cy="582.88" r="2.2" fill="#DCC41F"/>
<circle cx="407.24" cy="588.66" r="2.2" fill="#5AB74A"/>
<circle cx="469.41" cy="518.84" r="2.2" fill="#DCC41F"/>
<circle cx="470.74" cy="529.39" r="2.2" fill="#DCC41F"/>
<circle cx="473.96" cy="514.77" r="2.2" fill="#DCC41F"/>
<circle cx="430.73" cy="572.4" r="2.2" fill="#3BBFC7"/>
<circle cx="435.19" cy="551.25" r="2.2" fill="#DCC41F"/>
<circle cx="406.71" cy="581.86" r="2.2" fill="#3BBFC7"/>
<circle cx="422.91" cy="567.17" r="2.2" fill="#DCC41F"/>
<circle cx="471.21" cy="518.91" r="2.2" fill="#5AB74A"/>
<circle cx="427.03" cy="571.55" r="2.2" fill="#DCC41F"/>
<circle cx="469.68" cy="517.39" r="2.2" fill="#3BBFC7"/>
<circle cx="423.22" cy="583.74" r="2.2" fill="#DCC41F"/>
<circle cx="421.12" cy="565.86" r="2.2" fill="#3BBFC7"/>
<circle cx="410.76" cy="587.67" r="2.2" fill="#5AB74A"/>
<circle cx="441.21" cy="535.39" r="2.2" fill="#3BBFC7"/>
<circle cx="411.02" cy="589.46" r="2.2" fill="#DCC41F"/>
<circle cx="390.11" cy="577.19" r="2.2" fill="#3BBFC7"/>
<circle cx="446.94" cy="521.29" r="2.2" fill="#3BBFC7"/>
<circle cx="443.22" cy="547.94" r="2.2" fill="#5AB74A"/>
<circle cx="428.24" cy="557.03" r="2.2" fill="#DCC41F"/>
<circle cx="436.92" cy="568.87" r="2.2" fill="#3BBFC7"/>
<circle cx="420.32" cy="556.84" r="2.2" fill="#3BBFC7"/>
<circle cx="424.64" cy="550.88" r="2.2" fill="#DCC41F"/>
<circle cx="418.06" cy="553.9" r="2.2" fill="#DCC41F"/>
<circle cx="411.94" cy="583.12" r="2.2" fill="#5AB74A"/>
<circle cx="420.59" cy="578.54" r="2.2" fill="#3BBFC7"/>
<circle cx="434.57" cy="550.12" r="2.2" fill="#DCC41F"/>
<circle cx="432.56" cy="566.97" r="2.2" fill="#DCC41F"/>
<circle cx="440.18" cy="561.79" r="2.2" fill="#3BBFC7"/>
<circle cx="459.34" cy="540.13" r="2.2" fill="#3BBFC7"/>
<circle cx="447.97" cy="548.03" r="2.2" fill="#3BBFC7"/>
<circle cx="399.24" cy="592.42" r="2.2" fill="#DCC41F"/>
<circle cx="449.06" cy="529.02" r="2.2" fill="#5AB74A"/>
<circle cx="436.56" cy="556.81" r="2.2" fill="#3BBFC7"/>
<circle cx="428.58" cy="575.13" r="2.2" fill="#5AB74A"/>
<circle cx="432.54" cy="566.71" r="2.2" fill="#5AB74A"/>
<circle cx="440.3" cy="563.48" r="2.2" fill="#DCC41F"/>
<circle cx="420.96" cy="565.64" r="2.2" fill="#DCC41F"/>
<circle cx="392.52" cy="595.89" r="2.2" fill="#3BBFC7"/>
<circle cx="411.35" cy="588.52" r="2.2" fill="#5AB74A"/>
<circle cx="425.11" cy="563.13" r="2.2" fill="#5AB74A"/>
<circle cx="456.26" cy="518.5" r="2.2" fill="#3BBFC7"/>
<circle cx="433.42" cy="553.55" r="2.2" fill="#5AB74A"/>
<circle cx="419.92" cy="550.17" r="2.2" fill="#DCC41F"/>
<circle cx="407.24" cy="582.98" r="2.2" fill="#5AB74A"/>
<circle cx="426.61" cy="564.18" r="2.2" fill="#DCC41F"/>
<circle cx="404.52" cy="593.71" r="2.2" fill="#DCC41F"/>
<circle cx="402.26" cy="588.16" r="2.2" fill="#3BBFC7"/>
<circle cx="426.45" cy="569.49" r="2.2" fill="#DCC41F"/>
<circle cx="474.89" cy="519.43" r="2.2" fill="#3BBFC7"/>
<circle cx="423.01" cy="562.61" r="2.2" fill="#3BBFC7"/>
<circle cx="412.47" cy="558.56" r="2.2" fill="#DCC41F"/>
<circle cx="396.8" cy="598.89" r="2.2" fill="#5AB74A"/>
<circle cx="397.3" cy="597.5" r="2.2" fill="#DCC41F"/>
<circle cx="413.32" cy="573.63" r="2.2" fill="#5AB74A"/>
<circle cx="435.04" cy="547.14" r="2.2" fill="#DCC41F"/>
<circle cx="432.81" cy="549.51" r="2.2" fill="#5AB74A"/>
<circle cx="392.91" cy="589.3" r="2.2" fill="#3BBFC7"/>
<circle cx="433.9" cy="572.53" r="2.2" fill="#DCC41F"/>
<circle cx="443.21" cy="535.26" r="2.2" fill="#3BBFC7"/>
<circle cx="442.55" cy="556.79" r="2.2" fill="#5AB74A"/>
<circle cx="434.17" cy="542.79" r="2.2" fill="#DCC41F"/>
<circle cx="403.71" cy="557.62" r="2.2" fill="#3BBFC7"/>
<circle cx="405.95" cy="578.12" r="2.2" fill="#5AB74A"/>
<circle cx="458.12" cy="535.26" r="2.2" fill="#DCC41F"/>
<circle cx="424.25" cy="558.18" r="2.2" fill="#5AB74A"/>
<circle cx="456.26" cy="557.62" r="2.2" fill="#3BBFC7"/>
<circle cx="425.77" cy="553.4" r="2.2" fill="#5AB74A"/>
<circle cx="441.14" cy="536.3" r="2.2" fill="#5AB74A"/>
<circle cx="437.66" cy="552.85" r="2.2" fill="#3BBFC7"/>
<circle cx="435.81" cy="562.36" r="2.2" fill="#DCC41F"/>
<circle cx="451.18" cy="550.86" r="2.2" fill="#DCC41F"/>
<circle cx="442.28" cy="564.14" r="2.2" fill="#3BBFC7"/>
<circle cx="412.3" cy="585.5" r="2.2" fill="#5AB74A"/>
<circle cx="428.19" cy="562.43" r="2.2" fill="#5AB74A"/>
<circle cx="394.77" cy="587.44" r="2.2" fill="#5AB74A"/>
<circle cx="465.57" cy="529.68" r="2.2" fill="#DCC41F"/>
<circle cx="417.13" cy="574.39" r="2.2" fill="#5AB74A"/>
<circle cx="420.72" cy="582.58" r="2.2" fill="#DCC41F"/>
<circle cx="445.21" cy="540.92" r="2.2" fill="#5AB74A"/>
<circle cx="446.94" cy="530.61" r="2.2" fill="#3BBFC7"/>
<circle cx="412.21" cy="582.37" r="2.2" fill="#DCC41F"/>
<circle cx="428.35" cy="572.76" r="2.2" fill="#3BBFC7"/>
<circle cx="389.18" cy="583.71" r="2.2" fill="#3BBFC7"/>
<circle cx="419.28" cy="565.61" r="2.2" fill="#DCC41F"/>
<circle cx="398.83" cy="595.01" r="2.2" fill="#5AB74A"/>
<circle cx="411.26" cy="582.07" r="2.2" fill="#DCC41F"/>
<circle cx="418.97" cy="584.84" r="2.2" fill="#DCC41F"/>
<circle cx="439.49" cy="539.92" r="2.2" fill="#3BBFC7"/>
<circle cx="418.76" cy="561.41" r="2.2" fill="#DCC41F"/>
<circle cx="424.06" cy="570.85" r="2.2" fill="#DCC41F"/>
<circle cx="456.61" cy="544.97" r="2.2" fill="#DCC41F"/>
<circle cx="404.24" cy="587.87" r="2.2" fill="#3BBFC7"/>
<circle cx="423.97" cy="567.81" r="2.2" fill="#DCC41F"/>
<circle cx="431.38" cy="570.66" r="2.2" fill="#DCC41F"/>
<circle cx="418.18" cy="583.32" r="2.2" fill="#3BBFC7"/>
<circle cx="443.89" cy="536.95" r="2.2" fill="#5AB74A"/>
<circle cx="414.33" cy="593.4" r="2.2" fill="#5AB74A"/>
<circle cx="421.79" cy="572.71" r="2.2" fill="#5AB74A"/>
<circle cx="459.6" cy="527.99" r="2.2" fill="#5AB74A"/>
<circle cx="441.35" cy="535.26" r="2.2" fill="#5AB74A"/>
<circle cx="420.85" cy="579.98" r="2.2" fill="#3BBFC7"/>
<circle cx="393.29" cy="600.38" r="2.2" fill="#DCC41F"/>
<circle cx="416.11" cy="575.7" r="2.2" fill="#DCC41F"/>
<circle cx="439.49" cy="566.94" r="2.2" fill="#3BBFC7"/>
<circle cx="419.77" cy="567.07" r="2.2" fill="#DCC41F"/>
<circle cx="426.44" cy="540.85" r="2.2" fill="#DCC41F"/>
<circle cx="407.93" cy="582.69" r="2.2" fill="#3BBFC7"/>
<circle cx="457.12" cy="522.68" r="2.2" fill="#5AB74A"/>
<circle cx="403.19" cy="595.73" r="2.2" fill="#3BBFC7"/>
<circle cx="441.61" cy="551.19" r="2.2" fill="#5AB74A"/>
<circle cx="419.81" cy="559.86" r="2.2" fill="#3BBFC7"/>
<circle cx="472.69" cy="522.06" r="2.2" fill="#5AB74A"/>
<circle cx="421.51" cy="571.31" r="2.2" fill="#DCC41F"/>
<circle cx="391.04" cy="594.89" r="2.2" fill="#3BBFC7"/>
<circle cx="476.09" cy="514.63" r="2.2" fill="#3BBFC7"/>
<circle cx="440.83" cy="546.64" r="2.2" fill="#DCC41F"/>
<circle cx="433.06" cy="556.22" r="2.2" fill="#3BBFC7"/>
<circle cx="431.91" cy="563.98" r="2.2" fill="#DCC41F"/>
<circle cx="452.24" cy="530.83" r="2.2" fill="#5AB74A"/>
<circle cx="415.47" cy="569.63" r="2.2" fill="#5AB74A"/>
<circle cx="455.3" cy="541.94" r="2.2" fill="#5AB74A"/>
<circle cx="451.54" cy="549.3" r="2.2" fill="#3BBFC7"/>
<circle cx="448.24" cy="547.05" r="2.2" fill="#DCC41F"/>
<circle cx="433.9" cy="542.72" r="2.2" fill="#3BBFC7"/>
<circle cx="418.94" cy="572.26" r="2.2" fill="#5AB74A"/>
<circle cx="410.79" cy="585.07" r="2.2" fill="#DCC41F"/>
<circle cx="414.46" cy="568.33" r="2.2" fill="#5AB74A"/>
<circle cx="442.67" cy="552.19" r="2.2" fill="#5AB74A"/>
<circle cx="472.9" cy="517.52" r="2.2" fill="#3BBFC7"/>
<circle cx="450.18" cy="535.72" r="2.2" fill="#3BBFC7"/>
<circle cx="452.61" cy="536.11" r="2.2" fill="#5AB74A"/>
<circle cx="425.26" cy="569.8" r="2.2" fill="#DCC41F"/>
<circle cx="445.7" cy="549.01" r="2.2" fill="#3BBFC7"/>
<circle cx="402.22" cy="585.57" r="2.2" fill="#DCC41F"/>
<circle cx="439.78" cy="557.62" r="2.2" fill="#5AB74A"/>
<circle cx="435.8" cy="565.97" r="2.2" fill="#3BBFC7"/>
<circle cx="429.11" cy="561.59" r="2.2" fill="#5AB74A"/>
<circle cx="445.03" cy="555.89" r="2.2" fill="#DCC41F"/>
<circle cx="433.9" cy="544.58" r="2.2" fill="#5AB74A"/>
<circle cx="417.13" cy="585.57" r="2.2" fill="#3BBFC7"/>
<circle cx="416.37" cy="575.26" r="2.2" fill="#5AB74A"/>
<circle cx="429.46" cy="558.2" r="2.2" fill="#DCC41F"/>
<circle cx="448.8" cy="543.65" r="2.2" fill="#DCC41F"/>
<circle cx="435.75" cy="570.16" r="2.2" fill="#5AB74A"/>
<circle cx="464.09" cy="519.64" r="2.2" fill="#5AB74A"/>
<circle cx="454.39" cy="553.9" r="2.2" fill="#3BBFC7"/>
<circle cx="416.26" cy="589.41" r="2.2" fill="#DCC41F"/>
<circle cx="424.14" cy="566.27" r="2.2" fill="#3BBFC7"/>
<circle cx="415.87" cy="572.31" r="2.2" fill="#5AB74A"/>
<circle cx="461.67" cy="535.35" r="2.2" fill="#3BBFC7"/>
<circle cx="433.94" cy="558.67" r="2.2" fill="#5AB74A"/>
<circle cx="438.51" cy="561.54" r="2.2" fill="#3BBFC7"/>
<circle cx="394.77" cy="574.39" r="2.2" fill="#3BBFC7"/>
<circle cx="427.32" cy="564.31" r="2.2" fill="#3BBFC7"/>
<circle cx="406.69" cy="589.69" r="2.2" fill="#5AB74A"/>
<circle cx="447.32" cy="552.55" r="2.2" fill="#DCC41F"/>
<circle cx="445.33" cy="537.9" r="2.2" fill="#DCC41F"/>
<circle cx="430.43" cy="562.29" r="2.2" fill="#5AB74A"/>
<circle cx="422.86" cy="555.8" r="2.2" fill="#DCC41F"/>
<circle cx="442.52" cy="552.7" r="2.2" fill="#3BBFC7"/>
<circle cx="464.03" cy="532.21" r="2.2" fill="#DCC41F"/>
<circle cx="462.38" cy="524.7" r="2.2" fill="#DCC41F"/>
<circle cx="443.68" cy="546.39" r="2.2" fill="#DCC41F"/>
<circle cx="398.68" cy="590.79" r="2.2" fill="#3BBFC7"/>
<circle cx="435.05" cy="571.35" r="2.2" fill="#5AB74A"/>
<circle cx="438.25" cy="566.78" r="2.2" fill="#DCC41F"/>
<circle cx="458.45" cy="533.7" r="2.2" fill="#DCC41F"/>
<circle cx="426.02" cy="573.3" r="2.2" fill="#3BBFC7"/>
<circle cx="423.24" cy="568.39" r="2.2" fill="#3BBFC7"/>
<circle cx="436.02" cy="563.08" r="2.2" fill="#DCC41F"/>
<circle cx="405.95" cy="581.85" r="2.2" fill="#DCC41F"/>
<circle cx="419.84" cy="583.72" r="2.2" fill="#5AB74A"/>
<circle cx="445.2" cy="549.34" r="2.2" fill="#5AB74A"/>
<circle cx="438.6" cy="545.64" r="2.2" fill="#5AB74A"/>
<circle cx="473" cy="520.71" r="2.2" fill="#3BBFC7"/>
<circle cx="438.63" cy="544.87" r="2.2" fill="#DCC41F"/>
<circle cx="414.8" cy="568.27" r="2.2" fill="#5AB74A"/>
<circle cx="400.36" cy="591.16" r="2.2" fill="#DCC41F"/>
<circle cx="443.32" cy="553.3" r="2.2" fill="#5AB74A"/>
<circle cx="412.06" cy="574.86" r="2.2" fill="#5AB74A"/>
<circle cx="435.45" cy="554.16" r="2.2" fill="#DCC41F"/>
<circle cx="427.7" cy="559.68" r="2.2" fill="#5AB74A"/>
<circle cx="439.09" cy="552.15" r="2.2" fill="#DCC41F"/>
<circle cx="443.32" cy="551.5" r="2.2" fill="#DCC41F"/>
<circle cx="465.57" cy="512.91" r="2.2" fill="#5AB74A"/>
<circle cx="440.87" cy="536.51" r="2.2" fill="#5AB74A"/>
<circle cx="449.57" cy="535.73" r="2.2" fill="#3BBFC7"/>
<circle cx="423.65" cy="545.51" r="2.2" fill="#DCC41F"/>
<circle cx="440.55" cy="546.46" r="2.2" fill="#5AB74A"/>
<circle cx="433.15" cy="572.55" r="2.2" fill="#3BBFC7"/>
<circle cx="476.49" cy="518.6" r="2.2" fill="#DCC41F"/>
<circle cx="399.11" cy="598.63" r="2.2" fill="#5AB74A"/>
<circle cx="399.25" cy="593.85" r="2.2" fill="#DCC41F"/>
<circle cx="407.01" cy="582.68" r="2.2" fill="#5AB74A"/>
<circle cx="391.19" cy="597.46" r="2.2" fill="#3BBFC7"/>
<circle cx="428.31" cy="550.17" r="2.2" fill="#3BBFC7"/>
<circle cx="424.69" cy="580.16" r="2.2" fill="#5AB74A"/>
<circle cx="396.92" cy="595.15" r="2.2" fill="#DCC41F"/>
<circle cx="446.08" cy="553.33" r="2.2" fill="#3BBFC7"/>
<circle cx="436.76" cy="565.58" r="2.2" fill="#5AB74A"/>
<circle cx="432.03" cy="574.39" r="2.2" fill="#5AB74A"/>
<circle cx="439.61" cy="559.9" r="2.2" fill="#DCC41F"/>
<circle cx="459.28" cy="531.07" r="2.2" fill="#DCC41F"/>
<circle cx="427.58" cy="574.31" r="2.2" fill="#3BBFC7"/>
<circle cx="434.4" cy="561.79" r="2.2" fill="#DCC41F"/>
<circle cx="432.05" cy="546.56" r="2.2" fill="#5AB74A"/>
<circle cx="474.77" cy="521.29" r="2.2" fill="#5AB74A"/>
<circle cx="468.12" cy="526.96" r="2.2" fill="#DCC41F"/>
<circle cx="444.98" cy="540.32" r="2.2" fill="#DCC41F"/>
<circle cx="472.83" cy="523.62" r="2.2" fill="#3BBFC7"/>
<circle cx="437" cy="541.35" r="2.2" fill="#DCC41F"/>
<circle cx="437.25" cy="558.05" r="2.2" fill="#DCC41F"/>
<circle cx="464.2" cy="534.26" r="2.2" fill="#DCC41F"/>
<circle cx="472.74" cy="519.62" r="2.2" fill="#5AB74A"/>
<circle cx="440.65" cy="545.54" r="2.2" fill="#DCC41F"/>
<circle cx="450.67" cy="557.62" r="2.2" fill="#3BBFC7"/>
<circle cx="419.74" cy="559.68" r="2.2" fill="#DCC41F"/>
<circle cx="412.05" cy="588.61" r="2.2" fill="#5AB74A"/>
<circle cx="421.8" cy="578.19" r="2.2" fill="#5AB74A"/>
<circle cx="423.45" cy="577.28" r="2.2" fill="#DCC41F"/>
<circle cx="414.33" cy="559.49" r="2.2" fill="#DCC41F"/>
<circle cx="421.04" cy="585.43" r="2.2" fill="#DCC41F"/>
<circle cx="465.45" cy="526.11" r="2.2" fill="#5AB74A"/>
<circle cx="463.79" cy="534.5" r="2.2" fill="#DCC41F"/>
<circle cx="433.33" cy="557.5" r="2.2" fill="#DCC41F"/>
<circle cx="432.92" cy="558.89" r="2.2" fill="#5AB74A"/>
<circle cx="453.32" cy="529.96" r="2.2" fill="#DCC41F"/>
<circle cx="426.44" cy="553.9" r="2.2" fill="#3BBFC7"/>
<circle cx="444.53" cy="554.4" r="2.2" fill="#5AB74A"/>
<circle cx="395.1" cy="597.56" r="2.2" fill="#5AB74A"/>
<circle cx="418.22" cy="570.24" r="2.2" fill="#5AB74A"/>
<circle cx="422.85" cy="569.64" r="2.2" fill="#DCC41F"/>
<circle cx="465.36" cy="525.49" r="2.2" fill="#3BBFC7"/>
<circle cx="452.85" cy="527.07" r="2.2" fill="#DCC41F"/>
<circle cx="445.08" cy="561.35" r="2.2" fill="#3BBFC7"/>
<circle cx="432.81" cy="567.88" r="2.2" fill="#DCC41F"/>
<circle cx="467.44" cy="538.06" r="2.2" fill="#DCC41F"/>
<circle cx="446.77" cy="551.87" r="2.2" fill="#5AB74A"/>
<circle cx="421.22" cy="569.57" r="2.2" fill="#5AB74A"/>
<circle cx="471.16" cy="516.63" r="2.2" fill="#5AB74A"/>
<circle cx="411.37" cy="585.2" r="2.2" fill="#3BBFC7"/>
<circle cx="396.63" cy="573.46" r="2.2" fill="#3BBFC7"/>
<circle cx="460.52" cy="533.18" r="2.2" fill="#3BBFC7"/>
<circle cx="471.51" cy="523.84" r="2.2" fill="#DCC41F"/>
<circle cx="445.21" cy="554.63" r="2.2" fill="#5AB74A"/>
<circle cx="465.45" cy="525.11" r="2.2" fill="#5AB74A"/>
<circle cx="414.45" cy="577.22" r="2.2" fill="#3BBFC7"/>
<circle cx="438.2" cy="564.9" r="2.2" fill="#3BBFC7"/>
<circle cx="399.22" cy="595.67" r="2.2" fill="#3BBFC7"/>
<circle cx="412.09" cy="589.24" r="2.2" fill="#5AB74A"/>
<circle cx="400.21" cy="598.16" r="2.2" fill="#DCC41F"/>
<circle cx="426.93" cy="549.74" r="2.2" fill="#DCC41F"/>
<circle cx="465.78" cy="536.02" r="2.2" fill="#5AB74A"/>
<circle cx="393.1" cy="597.04" r="2.2" fill="#DCC41F"/>
<circle cx="469.74" cy="529.09" r="2.2" fill="#3BBFC7"/>
<circle cx="431.31" cy="570.11" r="2.2" fill="#DCC41F"/>
<circle cx="411.17" cy="549.24" r="2.2" fill="#3BBFC7"/>
<circle cx="442.02" cy="550.45" r="2.2" fill="#5AB74A"/>
<circle cx="463.63" cy="523.56" r="2.2" fill="#5AB74A"/>
<circle cx="425.62" cy="570.66" r="2.2" fill="#DCC41F"/>
<circle cx="407.81" cy="566.94" r="2.2" fill="#DCC41F"/>
<circle cx="470.88" cy="531.81" r="2.2" fill="#3BBFC7"/>
<circle cx="420.81" cy="570.46" r="2.2" fill="#DCC41F"/>
<circle cx="408.21" cy="581.05" r="2.2" fill="#DCC41F"/>
<circle cx="448.8" cy="553.9" r="2.2" fill="#3BBFC7"/>
<circle cx="471.03" cy="516.47" r="2.2" fill="#3BBFC7"/>
<circle cx="444.91" cy="533.22" r="2.2" fill="#3BBFC7"/>
<circle cx="427.17" cy="567.51" r="2.2" fill="#5AB74A"/>
<circle cx="443.07" cy="557.26" r="2.2" fill="#5AB74A"/>
<circle cx="444.02" cy="551.15" r="2.2" fill="#DCC41F"/>
<circle cx="449.37" cy="552.82" r="2.2" fill="#3BBFC7"/>
<circle cx="436.92" cy="553.31" r="2.2" fill="#5AB74A"/>
<circle cx="408.09" cy="587.75" r="2.2" fill="#5AB74A"/>
<circle cx="424.19" cy="573.17" r="2.2" fill="#5AB74A"/>
<circle cx="430.17" cy="546.44" r="2.2" fill="#5AB74A"/>
<circle cx="421.63" cy="583.45" r="2.2" fill="#DCC41F"/>
<circle cx="426.61" cy="571.16" r="2.2" fill="#5AB74A"/>
<circle cx="450.57" cy="540.56" r="2.2" fill="#DCC41F"/>
<circle cx="416.99" cy="588.35" r="2.2" fill="#3BBFC7"/>
<circle cx="459.67" cy="529.14" r="2.2" fill="#5AB74A"/>
<circle cx="420.85" cy="566.94" r="2.2" fill="#DCC41F"/>
<circle cx="452.5" cy="527.56" r="2.2" fill="#3BBFC7"/>
<circle cx="430.89" cy="559.79" r="2.2" fill="#DCC41F"/>
<circle cx="422.47" cy="570.56" r="2.2" fill="#DCC41F"/>
<circle cx="433.72" cy="561.36" r="2.2" fill="#3BBFC7"/>
<circle cx="419.93" cy="556.9" r="2.2" fill="#3BBFC7"/>
<circle cx="394.74" cy="592.49" r="2.2" fill="#5AB74A"/>
<circle cx="436.07" cy="569.05" r="2.2" fill="#DCC41F"/>
<circle cx="400.3" cy="589.62" r="2.2" fill="#5AB74A"/>
<circle cx="418.44" cy="577.95" r="2.2" fill="#3BBFC7"/>
<circle cx="421.61" cy="577.18" r="2.2" fill="#5AB74A"/>
<circle cx="421.67" cy="569.11" r="2.2" fill="#5AB74A"/>
<circle cx="409.85" cy="593.08" r="2.2" fill="#DCC41F"/>
<circle cx="442.71" cy="556.46" r="2.2" fill="#3BBFC7"/>
<circle cx="427.62" cy="561.17" r="2.2" fill="#5AB74A"/>
<circle cx="442.76" cy="557.7" r="2.2" fill="#5AB74A"/>
<circle cx="426.33" cy="564.12" r="2.2" fill="#DCC41F"/>
<circle cx="417.13" cy="567.81" r="2.2" fill="#5AB74A"/>
<circle cx="478.26" cy="520.03" r="2.2" fill="#3BBFC7"/>
<circle cx="428.94" cy="546.82" r="2.2" fill="#5AB74A"/>
<circle cx="422.72" cy="581.85" r="2.2" fill="#5AB74A"/>
<circle cx="407.16" cy="582.47" r="2.2" fill="#5AB74A"/>
<circle cx="446.13" cy="549.99" r="2.2" fill="#DCC41F"/>
<line x1="382.5" y1="609" x2="493.5" y2="499" stroke="#000" stroke-width="1.2" stroke-dasharray="3.6,2.4"/>
<text x="447.6" y="602.5" font-size="8.5"><tspan font-style="italic">p</tspan> = 0.102</text>
<line x1="556.7" y1="499.7" x2="556.7" y2="614.2" stroke="#2e2e2e" stroke-width="1"/>
<line x1="556.7" y1="614.2" x2="677.4" y2="614.2" stroke="#2e2e2e" stroke-width="1"/>
<line x1="556.7" y1="499.7" x2="558.5" y2="499.7" stroke="#2e2e2e" stroke-width="0.9"/>
<text x="552.9" y="503.3" text-anchor="end">0.2</text>
<line x1="556.7" y1="557.5" x2="558.5" y2="557.5" stroke="#2e2e2e" stroke-width="0.9"/>
<text x="552.9" y="561.1" text-anchor="end">0.15</text>
<line x1="556.7" y1="614.2" x2="558.5" y2="614.2" stroke="#2e2e2e" stroke-width="0.9"/>
<text x="552.9" y="617.8" text-anchor="end">0.1</text>
<line x1="556.7" y1="614.2" x2="556.7" y2="612.4" stroke="#2e2e2e" stroke-width="0.9"/>
<text x="556.7" y="627.5" text-anchor="middle">0</text>
<line x1="616.7" y1="614.2" x2="616.7" y2="612.4" stroke="#2e2e2e" stroke-width="0.9"/>
<text x="616.7" y="627.5" text-anchor="middle">200</text>
<line x1="676.9" y1="614.2" x2="676.9" y2="612.4" stroke="#2e2e2e" stroke-width="0.9"/>
<text x="676.9" y="627.5" text-anchor="middle">400</text>
<text x="617" y="640" text-anchor="middle">Distance (µm)</text>
<text x="527.3" y="561" text-anchor="middle" transform="rotate(-90 527.3 561)" textLength="90" lengthAdjust="spacing">Δ Modulation index</text>
<text x="558.6" y="511.6" font-size="8.5" fill="#55c5cc">Δcon idx</text>
<text x="558.6" y="525.1" font-size="8.5" fill="#dcc93f">Δeng idx</text>
<text x="675.5" y="589.2" text-anchor="end" font-size="8.5" fill="#55c5cc"><tspan font-style="italic">r</tspan> = 0.003, <tspan font-style="italic">p</tspan> = 0.66</text>
<text x="675.5" y="602" text-anchor="end" font-size="8.5" fill="#dcc93f"><tspan font-style="italic">r</tspan> = 0.001, <tspan font-style="italic">p</tspan> = 0.96</text>
<polyline points="562.11,558.04 574.26,547.51 586.42,549.67 598.57,552.91 610.72,550.75 622.87,548.05 635.03,546.97 647.18,552.91 659.33,551.56 670.94,547.51" fill="none" stroke="#DCC41F" stroke-width="1.5"/>
<line x1="562.11" y1="552.1" x2="562.11" y2="563.72" stroke="#DCC41F" stroke-width="1.2"/>
<line x1="560.31" y1="558.04" x2="563.91" y2="558.04" stroke="#DCC41F" stroke-width="1.2"/>
<line x1="574.26" y1="544.27" x2="574.26" y2="550.75" stroke="#DCC41F" stroke-width="1.2"/>
<line x1="572.46" y1="547.51" x2="576.06" y2="547.51" stroke="#DCC41F" stroke-width="1.2"/>
<line x1="586.42" y1="546.97" x2="586.42" y2="552.91" stroke="#DCC41F" stroke-width="1.2"/>
<line x1="584.62" y1="549.67" x2="588.22" y2="549.67" stroke="#DCC41F" stroke-width="1.2"/>
<line x1="598.57" y1="550.75" x2="598.57" y2="555.61" stroke="#DCC41F" stroke-width="1.2"/>
<line x1="596.77" y1="552.91" x2="600.37" y2="552.91" stroke="#DCC41F" stroke-width="1.2"/>
<line x1="610.72" y1="548.05" x2="610.72" y2="553.45" stroke="#DCC41F" stroke-width="1.2"/>
<line x1="608.92" y1="550.75" x2="612.52" y2="550.75" stroke="#DCC41F" stroke-width="1.2"/>
<line x1="622.87" y1="545.35" x2="622.87" y2="550.75" stroke="#DCC41F" stroke-width="1.2"/>
<line x1="621.07" y1="548.05" x2="624.67" y2="548.05" stroke="#DCC41F" stroke-width="1.2"/>
<line x1="635.03" y1="544.27" x2="635.03" y2="549.67" stroke="#DCC41F" stroke-width="1.2"/>
<line x1="633.23" y1="546.97" x2="636.83" y2="546.97" stroke="#DCC41F" stroke-width="1.2"/>
<line x1="647.18" y1="549.67" x2="647.18" y2="556.15" stroke="#DCC41F" stroke-width="1.2"/>
<line x1="645.38" y1="552.91" x2="648.98" y2="552.91" stroke="#DCC41F" stroke-width="1.2"/>
<line x1="659.33" y1="548.86" x2="659.33" y2="554.26" stroke="#DCC41F" stroke-width="1.2"/>
<line x1="657.53" y1="551.56" x2="661.13" y2="551.56" stroke="#DCC41F" stroke-width="1.2"/>
<line x1="670.94" y1="544.81" x2="670.94" y2="550.75" stroke="#DCC41F" stroke-width="1.2"/>
<line x1="669.14" y1="547.51" x2="672.74" y2="547.51" stroke="#DCC41F" stroke-width="1.2"/>
<polyline points="562.11,565.88 574.26,544.81 586.42,554.8 598.57,544.81 610.72,544 622.87,543.73 635.03,549.4 647.18,542.65 659.33,540.76 670.94,541.57" fill="none" stroke="#3BBFC7" stroke-width="1.5"/>
<line x1="562.11" y1="558.85" x2="562.11" y2="573.98" stroke="#3BBFC7" stroke-width="1.2"/>
<line x1="560.31" y1="565.88" x2="563.91" y2="565.88" stroke="#3BBFC7" stroke-width="1.2"/>
<line x1="574.26" y1="541.57" x2="574.26" y2="548.86" stroke="#3BBFC7" stroke-width="1.2"/>
<line x1="572.46" y1="544.81" x2="576.06" y2="544.81" stroke="#3BBFC7" stroke-width="1.2"/>
<line x1="586.42" y1="550.75" x2="586.42" y2="558.31" stroke="#3BBFC7" stroke-width="1.2"/>
<line x1="584.62" y1="554.8" x2="588.22" y2="554.8" stroke="#3BBFC7" stroke-width="1.2"/>
<line x1="598.57" y1="541.57" x2="598.57" y2="548.05" stroke="#3BBFC7" stroke-width="1.2"/>
<line x1="596.77" y1="544.81" x2="600.37" y2="544.81" stroke="#3BBFC7" stroke-width="1.2"/>
<line x1="610.72" y1="541.57" x2="610.72" y2="547.51" stroke="#3BBFC7" stroke-width="1.2"/>
<line x1="608.92" y1="544" x2="612.52" y2="544" stroke="#3BBFC7" stroke-width="1.2"/>
<line x1="622.87" y1="541.57" x2="622.87" y2="546.97" stroke="#3BBFC7" stroke-width="1.2"/>
<line x1="621.07" y1="543.73" x2="624.67" y2="543.73" stroke="#3BBFC7" stroke-width="1.2"/>
<line x1="635.03" y1="546.16" x2="635.03" y2="552.37" stroke="#3BBFC7" stroke-width="1.2"/>
<line x1="633.23" y1="549.4" x2="636.83" y2="549.4" stroke="#3BBFC7" stroke-width="1.2"/>
<line x1="647.18" y1="538.87" x2="647.18" y2="546.16" stroke="#3BBFC7" stroke-width="1.2"/>
<line x1="645.38" y1="542.65" x2="648.98" y2="542.65" stroke="#3BBFC7" stroke-width="1.2"/>
<line x1="659.33" y1="536.71" x2="659.33" y2="544.27" stroke="#3BBFC7" stroke-width="1.2"/>
<line x1="657.53" y1="540.76" x2="661.13" y2="540.76" stroke="#3BBFC7" stroke-width="1.2"/>
<line x1="670.94" y1="538.06" x2="670.94" y2="545.35" stroke="#3BBFC7" stroke-width="1.2"/>
<line x1="669.14" y1="541.57" x2="672.74" y2="541.57" stroke="#3BBFC7" stroke-width="1.2"/>
</svg>
</body></html>
